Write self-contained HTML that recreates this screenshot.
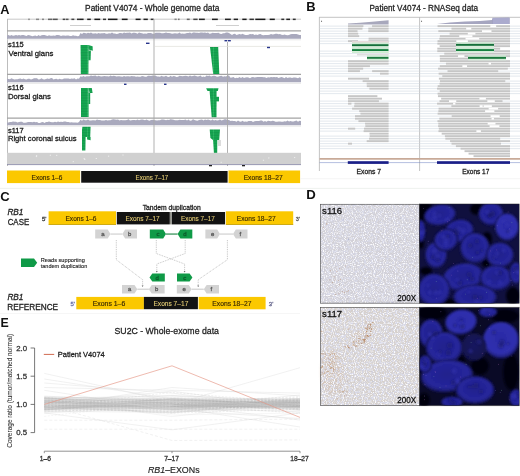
<!DOCTYPE html>
<html><head><meta charset="utf-8"><title>RB1 tandem duplication</title>
<style>html,body{margin:0;padding:0;background:#fff;} svg{display:block;} text{font-family:'Liberation Sans', Arial, sans-serif;}</style>
</head><body>
<svg width="520" height="476" viewBox="0 0 520 476">
<rect width="520" height="476" fill="#fff"/>
<text x="0.18" y="13.70" font-size="12.4" fill="#111" font-weight="bold" font-style="normal" textLength="9.24" lengthAdjust="spacingAndGlyphs"  >A</text>
<text x="85.08" y="11.40" font-size="8.5" fill="#222" font-weight="normal" font-style="normal" textLength="134.35" lengthAdjust="spacingAndGlyphs" stroke="#222" stroke-width="0.28" >Patient V4074 - Whole genome data</text>
<line x1="7.00" y1="19.20" x2="301.00" y2="19.20" stroke="#c8c8c8" stroke-width="1" />
<rect x="28.00" y="18.60" width="2.00" height="1.50" fill="#999" />
<rect x="36.00" y="18.60" width="3.00" height="1.50" fill="#888" />
<rect x="42.00" y="18.60" width="2.00" height="1.50" fill="#888" />
<rect x="48.00" y="18.60" width="4.00" height="1.50" fill="#666" />
<rect x="52.60" y="18.60" width="5.10" height="1.50" fill="#555" />
<rect x="62.70" y="18.60" width="2.30" height="1.50" fill="#444" />
<rect x="65.60" y="18.60" width="2.90" height="1.50" fill="#555" />
<rect x="71.40" y="18.60" width="2.90" height="1.50" fill="#444" />
<rect x="77.00" y="18.60" width="3.00" height="1.50" fill="#333" />
<rect x="80.00" y="18.60" width="3.60" height="1.50" fill="#222" />
<rect x="87.20" y="18.60" width="3.60" height="1.50" fill="#222" />
<rect x="94.40" y="18.60" width="5.80" height="1.50" fill="#1a1a1a" />
<rect x="103.00" y="18.60" width="3.00" height="1.50" fill="#333" />
<rect x="108.00" y="18.60" width="9.50" height="1.50" fill="#1a1a1a" />
<rect x="121.80" y="18.60" width="5.80" height="1.50" fill="#1a1a1a" />
<rect x="135.60" y="18.60" width="5.00" height="1.50" fill="#1a1a1a" />
<rect x="143.50" y="18.60" width="4.30" height="1.50" fill="#222" />
<rect x="150.70" y="18.60" width="2.90" height="1.50" fill="#333" />
<rect x="174.50" y="18.60" width="2.20" height="1.50" fill="#888" />
<rect x="178.00" y="18.60" width="1.60" height="1.50" fill="#777" />
<rect x="186.80" y="18.60" width="2.90" height="1.50" fill="#666" />
<rect x="193.30" y="18.60" width="4.30" height="1.50" fill="#444" />
<rect x="199.00" y="18.60" width="5.80" height="1.50" fill="#222" />
<rect x="212.00" y="18.60" width="5.80" height="1.50" fill="#222" />
<rect x="225.00" y="18.60" width="5.80" height="1.50" fill="#222" />
<rect x="233.70" y="18.60" width="4.30" height="1.50" fill="#222" />
<rect x="242.30" y="18.60" width="4.30" height="1.50" fill="#1a1a1a" />
<rect x="249.50" y="18.60" width="4.40" height="1.50" fill="#333" />
<rect x="255.30" y="18.60" width="10.10" height="1.50" fill="#1a1a1a" />
<rect x="269.70" y="18.60" width="5.10" height="1.50" fill="#1a1a1a" />
<rect x="281.30" y="18.60" width="2.90" height="1.50" fill="#333" />
<rect x="286.30" y="18.60" width="3.70" height="1.50" fill="#222" />
<rect x="292.80" y="18.60" width="2.90" height="1.50" fill="#333" />
<line x1="7.50" y1="19.00" x2="7.50" y2="166.00" stroke="#bdbdbd" stroke-width="1" />
<rect x="70.00" y="25.00" width="21.00" height="0.80" fill="#c4c4c4" />
<rect x="216.00" y="25.00" width="23.00" height="0.80" fill="#c4c4c4" />
<line x1="7.00" y1="30.80" x2="301.00" y2="30.80" stroke="#a3a3a3" stroke-width="1.2" />
<polygon points="7,38.8 7.0,35.4 8.5,35.1 10.0,35.8 11.5,35.0 13.0,35.7 14.5,35.4 16.0,35.0 17.5,35.6 19.0,35.0 20.5,35.5 22.0,35.0 23.5,35.1 25.0,35.5 26.5,36.1 28.0,35.1 29.5,35.2 31.0,35.8 32.5,36.3 34.0,35.7 35.5,35.5 37.0,36.3 38.5,35.0 40.0,36.1 41.5,35.3 43.0,35.1 44.5,35.1 46.0,35.4 47.5,36.1 49.0,35.2 50.5,35.8 52.0,35.8 53.5,35.5 55.0,35.7 56.5,35.0 58.0,35.0 59.5,35.2 61.0,35.9 62.5,35.5 64.0,35.4 65.5,35.8 67.0,35.6 68.5,35.4 70.0,36.0 71.5,35.9 73.0,35.3 74.5,35.7 76.0,35.7 77.5,36.2 79.0,36.0 80.5,32.9 82.0,33.9 83.5,32.7 85.0,33.1 86.5,33.6 88.0,32.7 89.5,33.2 91.0,32.6 92.5,33.4 94.0,33.6 95.5,33.3 97.0,33.7 98.5,32.9 100.0,33.5 101.5,33.3 103.0,33.3 104.5,33.1 106.0,33.7 107.5,33.8 109.0,33.2 110.5,33.4 112.0,32.6 113.5,33.5 115.0,33.4 116.5,33.9 118.0,33.7 119.5,32.9 121.0,33.0 122.5,33.4 124.0,32.5 125.5,33.1 127.0,32.7 128.5,32.7 130.0,32.6 131.5,33.6 133.0,32.7 134.5,32.8 136.0,33.0 137.5,33.7 139.0,32.6 140.5,33.1 142.0,33.3 143.5,33.7 145.0,33.6 146.5,33.7 148.0,32.9 149.5,33.1 151.0,33.0 152.5,33.7 154.0,33.8 155.5,32.7 157.0,32.7 158.5,32.8 160.0,32.8 161.5,33.2 163.0,33.3 164.5,32.9 166.0,32.5 167.5,33.1 169.0,33.0 170.5,33.3 172.0,33.8 173.5,33.5 175.0,33.2 176.5,33.4 178.0,33.4 179.5,32.6 181.0,33.8 182.5,33.6 184.0,33.7 185.5,33.6 187.0,33.0 188.5,33.1 190.0,32.6 191.5,33.4 193.0,32.6 194.5,32.6 196.0,32.8 197.5,32.7 199.0,33.0 200.5,32.6 202.0,32.5 203.5,32.7 205.0,32.6 206.5,33.0 208.0,32.5 209.5,33.7 211.0,33.4 212.5,32.7 214.0,32.9 215.5,33.0 217.0,33.0 218.5,32.7 220.0,33.7 221.5,33.9 223.0,33.2 224.5,33.2 226.0,32.6 227.5,32.6 229.0,33.0 230.5,34.1 232.0,34.9 233.5,34.0 235.0,33.8 236.5,35.1 238.0,34.5 239.5,34.0 241.0,34.5 242.5,33.8 244.0,34.5 245.5,35.1 247.0,35.0 248.5,34.8 250.0,34.1 251.5,34.3 253.0,34.0 254.5,34.9 256.0,34.5 257.5,34.9 259.0,34.2 260.5,34.1 262.0,34.9 263.5,35.2 265.0,35.0 266.5,34.9 268.0,34.9 269.5,34.8 271.0,34.1 272.5,34.5 274.0,34.3 275.5,33.8 277.0,33.8 278.5,34.2 280.0,34.1 281.5,34.7 283.0,35.1 284.5,34.4 286.0,35.1 287.5,35.2 289.0,35.1 290.5,34.3 292.0,34.1 293.5,34.1 295.0,34.1 296.5,34.1 298.0,34.6 299.5,35.0 301.0,35.0 301,38.8" fill="#a9a9bd"/>
<line x1="7.00" y1="74.40" x2="301.00" y2="74.40" stroke="#a3a3a3" stroke-width="1.2" />
<polygon points="7,82.2 7.0,78.8 8.5,79.0 10.0,79.2 11.5,78.2 13.0,79.0 14.5,79.4 16.0,79.2 17.5,79.2 19.0,78.8 20.5,78.4 22.0,79.2 23.5,78.6 25.0,79.2 26.5,79.5 28.0,78.7 29.5,78.7 31.0,79.4 32.5,79.1 34.0,78.3 35.5,78.3 37.0,78.3 38.5,79.4 40.0,79.2 41.5,78.3 43.0,79.3 44.5,79.5 46.0,79.0 47.5,78.6 49.0,78.9 50.5,78.3 52.0,78.1 53.5,79.5 55.0,79.0 56.5,78.8 58.0,79.4 59.5,78.7 61.0,79.3 62.5,79.3 64.0,78.4 65.5,78.5 67.0,78.5 68.5,78.4 70.0,78.9 71.5,78.5 73.0,78.7 74.5,78.3 76.0,79.4 77.5,78.6 79.0,78.7 80.5,76.3 82.0,76.8 83.5,76.1 85.0,76.8 86.5,76.2 88.0,76.2 89.5,76.2 91.0,75.5 92.5,76.1 94.0,75.8 95.5,75.5 97.0,76.6 98.5,75.7 100.0,76.2 101.5,76.5 103.0,76.3 104.5,76.0 106.0,76.2 107.5,76.3 109.0,76.6 110.5,75.6 112.0,76.3 113.5,75.8 115.0,75.9 116.5,76.6 118.0,76.2 119.5,76.3 121.0,76.6 122.5,76.8 124.0,76.1 125.5,76.4 127.0,76.2 128.5,76.2 130.0,76.5 131.5,76.1 133.0,76.2 134.5,76.2 136.0,76.8 137.5,76.5 139.0,76.7 140.5,76.8 142.0,75.9 143.5,76.3 145.0,76.8 146.5,76.7 148.0,75.7 149.5,75.7 151.0,76.1 152.5,75.6 154.0,75.8 155.5,75.6 157.0,76.4 158.5,76.6 160.0,76.8 161.5,75.7 163.0,76.5 164.5,76.4 166.0,75.7 167.5,76.7 169.0,76.9 170.5,75.8 172.0,76.8 173.5,76.1 175.0,76.2 176.5,76.9 178.0,76.7 179.5,75.7 181.0,76.1 182.5,76.2 184.0,76.0 185.5,75.8 187.0,75.9 188.5,76.5 190.0,75.5 191.5,76.3 193.0,76.1 194.5,75.5 196.0,76.0 197.5,76.4 199.0,76.2 200.5,75.6 202.0,76.9 203.5,76.6 205.0,76.9 206.5,75.6 208.0,75.9 209.5,75.6 211.0,76.6 212.5,75.9 214.0,75.7 215.5,76.1 217.0,76.8 218.5,76.6 220.0,75.9 221.5,75.7 223.0,76.8 224.5,76.3 226.0,76.5 227.5,75.6 229.0,75.6 230.5,77.8 232.0,77.5 233.5,77.0 235.0,78.2 236.5,77.8 238.0,78.0 239.5,77.0 241.0,78.1 242.5,77.0 244.0,78.1 245.5,77.5 247.0,77.3 248.5,77.6 250.0,78.2 251.5,77.2 253.0,77.0 254.5,77.6 256.0,77.2 257.5,77.0 259.0,77.1 260.5,76.9 262.0,77.1 263.5,77.3 265.0,77.3 266.5,77.9 268.0,77.3 269.5,77.6 271.0,77.1 272.5,77.3 274.0,76.9 275.5,77.2 277.0,76.9 278.5,77.9 280.0,77.6 281.5,77.1 283.0,77.5 284.5,78.2 286.0,77.0 287.5,78.0 289.0,77.5 290.5,77.6 292.0,78.0 293.5,77.4 295.0,77.6 296.5,77.8 298.0,78.2 299.5,77.3 301.0,78.0 301,82.2" fill="#a9a9bd"/>
<line x1="7.00" y1="118.20" x2="301.00" y2="118.20" stroke="#a3a3a3" stroke-width="1.2" />
<polygon points="7,125.2 7.0,122.6 8.5,122.5 10.0,122.1 11.5,122.1 13.0,121.6 14.5,121.7 16.0,121.7 17.5,122.6 19.0,121.9 20.5,121.8 22.0,121.7 23.5,122.7 25.0,122.8 26.5,122.5 28.0,122.0 29.5,121.9 31.0,122.0 32.5,122.2 34.0,121.8 35.5,122.2 37.0,121.9 38.5,122.9 40.0,122.9 41.5,122.3 43.0,121.9 44.5,122.9 46.0,122.0 47.5,122.1 49.0,121.6 50.5,122.1 52.0,122.2 53.5,122.3 55.0,121.8 56.5,122.3 58.0,121.6 59.5,121.9 61.0,121.7 62.5,122.1 64.0,121.6 65.5,121.6 67.0,122.0 68.5,121.9 70.0,122.4 71.5,122.3 73.0,122.6 74.5,122.5 76.0,122.6 77.5,122.8 79.0,122.1 80.5,119.8 82.0,120.7 83.5,119.5 85.0,120.3 86.5,120.2 88.0,119.4 89.5,120.5 91.0,120.5 92.5,120.2 94.0,120.3 95.5,120.4 97.0,119.5 98.5,120.0 100.0,120.0 101.5,120.5 103.0,120.4 104.5,120.5 106.0,120.1 107.5,120.5 109.0,120.3 110.5,120.3 112.0,119.6 113.5,119.3 115.0,119.5 116.5,119.8 118.0,119.4 119.5,120.5 121.0,120.1 122.5,120.2 124.0,120.2 125.5,120.3 127.0,120.0 128.5,119.3 130.0,120.4 131.5,120.3 133.0,120.0 134.5,120.0 136.0,120.2 137.5,119.4 139.0,120.3 140.5,119.7 142.0,119.4 143.5,119.7 145.0,120.3 146.5,119.6 148.0,120.3 149.5,120.7 151.0,120.0 152.5,119.8 154.0,120.0 155.5,120.3 157.0,120.4 158.5,120.2 160.0,120.2 161.5,119.4 163.0,119.5 164.5,119.7 166.0,120.3 167.5,119.7 169.0,120.1 170.5,119.3 172.0,119.4 173.5,119.7 175.0,120.2 176.5,120.3 178.0,120.2 179.5,119.7 181.0,120.0 182.5,120.0 184.0,120.0 185.5,119.5 187.0,120.6 188.5,119.6 190.0,120.7 191.5,120.6 193.0,119.3 194.5,119.9 196.0,120.4 197.5,120.7 199.0,119.9 200.5,119.7 202.0,119.6 203.5,120.6 205.0,119.6 206.5,120.1 208.0,119.5 209.5,120.0 211.0,120.6 212.5,119.5 214.0,120.4 215.5,120.0 217.0,120.5 218.5,120.3 220.0,119.6 221.5,120.6 223.0,120.0 224.5,119.3 226.0,119.3 227.5,120.0 229.0,119.9 230.5,120.9 232.0,120.7 233.5,121.0 235.0,120.9 236.5,121.7 238.0,120.5 239.5,121.5 241.0,121.7 242.5,120.7 244.0,121.8 245.5,121.5 247.0,121.8 248.5,120.9 250.0,121.0 251.5,121.0 253.0,121.9 254.5,121.3 256.0,121.0 257.5,121.1 259.0,120.9 260.5,120.6 262.0,120.6 263.5,121.7 265.0,120.9 266.5,121.8 268.0,120.8 269.5,120.9 271.0,121.2 272.5,120.8 274.0,121.0 275.5,121.8 277.0,121.7 278.5,121.6 280.0,121.4 281.5,121.8 283.0,121.8 284.5,121.3 286.0,121.5 287.5,120.6 289.0,121.5 290.5,121.1 292.0,121.5 293.5,121.4 295.0,120.9 296.5,120.6 298.0,121.8 299.5,120.7 301.0,121.1 301,125.2" fill="#a9a9bd"/>
<line x1="7.00" y1="39.80" x2="301.00" y2="39.80" stroke="#e2e2e2" stroke-width="0.8" />
<line x1="7.00" y1="83.40" x2="301.00" y2="83.40" stroke="#e2e2e2" stroke-width="0.8" />
<line x1="7.00" y1="126.20" x2="301.00" y2="126.20" stroke="#e2e2e2" stroke-width="0.8" />
<line x1="154.00" y1="19.00" x2="154.00" y2="166.00" stroke="#a8a8a8" stroke-width="0.9" />
<line x1="227.50" y1="42.00" x2="227.50" y2="166.00" stroke="#a8a8a8" stroke-width="0.9" />
<line x1="155.00" y1="46.40" x2="301.00" y2="46.40" stroke="#e0e0d8" stroke-width="0.7" />
<rect x="146.00" y="42.60" width="3.50" height="1.40" fill="#27348b" />
<rect x="224.50" y="40.00" width="2.80" height="1.40" fill="#27348b" />
<rect x="228.00" y="40.00" width="2.80" height="1.40" fill="#27348b" />
<rect x="267.00" y="46.80" width="3.00" height="1.40" fill="#27348b" />
<rect x="124.00" y="83.60" width="2.50" height="1.40" fill="#27348b" />
<rect x="164.00" y="83.60" width="2.50" height="1.40" fill="#27348b" />
<polygon points="80.5,45 88.6,45 88.4,74 80.8,74" fill="url(#gs)"/>
<polygon points="88.4,45 92.6,46.2 92.8,50.8 88.4,49.5" fill="url(#gs)"/>
<polygon points="88.3,50.5 90.9,50.5 90.6,60.2 88.3,60.2" fill="url(#gs)"/>
<polygon points="210,47 218.2,47 219.3,74 213.2,74" fill="url(#gs)"/>
<polygon points="81,88 88.6,88 88.6,117 81,117" fill="url(#gs)"/>
<polygon points="88.5,88 91.8,88 92.6,93 89.5,93" fill="url(#gs)"/>
<polygon points="88.5,93 90.2,93 90.2,104 88.5,104" fill="url(#gs)"/>
<polygon points="206,88.2 218.5,88.2 217.8,91 207.5,91" fill="url(#gs)"/>
<polygon points="209.6,91 216.6,91 216.5,117.3 211.7,117.3" fill="url(#gs)"/>
<polygon points="216,96.8 219,96.8 219,101.4 216,101.4" fill="url(#gs)"/>
<polygon points="82.4,126.8 90.6,126.8 90.2,137 85.6,137 85.4,150.5 82,150.5 82,130" fill="url(#gs)"/>
<polygon points="87,136 90.6,137 90.6,140.2 87,139.4" fill="url(#gs)"/>
<polygon points="209.7,129.4 220,129.4 219.2,140 217.3,140 217.2,154.5 214,154.5 213,140 210.4,138" fill="url(#gs)"/>
<rect x="218.00" y="140.00" width="3.00" height="6.00" fill="#dcdcdc" />
<rect x="7.00" y="152.80" width="294.00" height="11.40" fill="#d0d0d0" />
<rect x="107.94" y="155.68" width="1.20" height="1.00" fill="#eeeeee" />
<rect x="220.62" y="161.79" width="1.20" height="1.00" fill="#eeeeee" />
<rect x="84.15" y="158.90" width="1.20" height="1.00" fill="#eeeeee" />
<rect x="95.74" y="158.02" width="1.20" height="1.00" fill="#eeeeee" />
<rect x="122.39" y="154.51" width="1.20" height="1.00" fill="#eeeeee" />
<rect x="56.07" y="154.87" width="1.20" height="1.00" fill="#eeeeee" />
<rect x="268.20" y="157.47" width="1.20" height="1.00" fill="#eeeeee" />
<rect x="72.71" y="161.16" width="1.20" height="1.00" fill="#eeeeee" />
<rect x="294.00" y="157.05" width="1.20" height="1.00" fill="#eeeeee" />
<rect x="49.78" y="154.73" width="1.20" height="1.00" fill="#eeeeee" />
<rect x="35.85" y="156.08" width="1.20" height="1.00" fill="#eeeeee" />
<rect x="35.96" y="155.15" width="1.20" height="1.00" fill="#eeeeee" />
<rect x="83.63" y="158.13" width="1.20" height="1.00" fill="#eeeeee" />
<rect x="262.87" y="159.75" width="1.20" height="1.00" fill="#eeeeee" />
<line x1="7.00" y1="164.60" x2="301.00" y2="164.60" stroke="#8a8aa8" stroke-width="0.9" />
<rect x="209.00" y="165.00" width="3.00" height="1.30" fill="#222" />
<rect x="242.00" y="165.00" width="3.00" height="1.30" fill="#222" />
<text x="8.13" y="46.90" font-size="7.4" fill="#1a1a1a" font-weight="normal" font-style="normal" textLength="15.64" lengthAdjust="spacingAndGlyphs" stroke="#1a1a1a" stroke-width="0.28" >s115</text>
<text x="8.42" y="55.90" font-size="7.6" fill="#1a1a1a" font-weight="normal" font-style="normal" textLength="44.96" lengthAdjust="spacingAndGlyphs" stroke="#1a1a1a" stroke-width="0.28" >Ventral glans</text>
<text x="7.93" y="89.80" font-size="7.4" fill="#1a1a1a" font-weight="normal" font-style="normal" textLength="15.64" lengthAdjust="spacingAndGlyphs" stroke="#1a1a1a" stroke-width="0.28" >s116</text>
<text x="7.92" y="98.80" font-size="7.6" fill="#1a1a1a" font-weight="normal" font-style="normal" textLength="42.96" lengthAdjust="spacingAndGlyphs" stroke="#1a1a1a" stroke-width="0.28" >Dorsal glans</text>
<text x="7.93" y="132.90" font-size="7.4" fill="#1a1a1a" font-weight="normal" font-style="normal" textLength="15.64" lengthAdjust="spacingAndGlyphs" stroke="#1a1a1a" stroke-width="0.28" >s117</text>
<text x="7.92" y="141.30" font-size="7.6" fill="#1a1a1a" font-weight="normal" font-style="normal" textLength="68.76" lengthAdjust="spacingAndGlyphs" stroke="#1a1a1a" stroke-width="0.28" >Right coronal sulcus</text>
<rect x="7.00" y="170.50" width="73.10" height="12.60" fill="#fbc800" />
<rect x="81.20" y="171.00" width="146.40" height="11.70" fill="#131313" />
<rect x="228.50" y="170.50" width="71.60" height="12.60" fill="#fbc800" />
<text x="31.57" y="180.00" font-size="6.5" fill="#3a2a00" font-weight="normal" font-style="normal" textLength="30.75" lengthAdjust="spacingAndGlyphs" stroke="#3a2a00" stroke-width="0.15" >Exons 1–6</text>
<text x="135.58" y="179.80" font-size="6.4" fill="#e4cc74" font-weight="normal" font-style="normal" textLength="32.74" lengthAdjust="spacingAndGlyphs" stroke="#e4cc74" stroke-width="0.1" >Exons 7–17</text>
<text x="243.67" y="180.10" font-size="6.6" fill="#3a2a00" font-weight="normal" font-style="normal" textLength="38.96" lengthAdjust="spacingAndGlyphs" stroke="#3a2a00" stroke-width="0.15" >Exons 18–27</text>
<text x="306.19" y="10.80" font-size="12.3" fill="#111" font-weight="bold" font-style="normal" textLength="9.33" lengthAdjust="spacingAndGlyphs"  >B</text>
<text x="369.38" y="11.40" font-size="8.5" fill="#222" font-weight="normal" font-style="normal" textLength="108.65" lengthAdjust="spacingAndGlyphs" stroke="#222" stroke-width="0.28" >Patient V4074 - RNASeq data</text>
<line x1="319.00" y1="17.30" x2="520.00" y2="17.30" stroke="#bcbcbc" stroke-width="0.9" />
<line x1="319.40" y1="17.00" x2="319.40" y2="171.00" stroke="#bcbcbc" stroke-width="0.9" />
<line x1="419.60" y1="17.00" x2="419.60" y2="171.00" stroke="#bcbcbc" stroke-width="0.9" />
<polygon points="348,24.5 348,23.6 360,22.8 372,21.8 380,21 388.6,20.3 388.6,24.5" fill="#a8a8bc"/>
<polygon points="437,24 450,22.5 465,21.5 480,21 492,20 493,18 509.5,17.6 509.5,24" fill="#a6a6c0"/>
<rect x="492.50" y="17.80" width="17.00" height="6.20" fill="#9c9cc4" />
<line x1="494.00" y1="17.80" x2="494.00" y2="24.00" stroke="#d8d8ec" stroke-width="0.5" />
<line x1="496.00" y1="17.80" x2="496.00" y2="24.00" stroke="#d8d8ec" stroke-width="0.5" />
<line x1="498.00" y1="17.80" x2="498.00" y2="24.00" stroke="#d8d8ec" stroke-width="0.5" />
<line x1="500.00" y1="17.80" x2="500.00" y2="24.00" stroke="#d8d8ec" stroke-width="0.5" />
<line x1="502.00" y1="17.80" x2="502.00" y2="24.00" stroke="#d8d8ec" stroke-width="0.5" />
<line x1="504.00" y1="17.80" x2="504.00" y2="24.00" stroke="#d8d8ec" stroke-width="0.5" />
<line x1="506.00" y1="17.80" x2="506.00" y2="24.00" stroke="#d8d8ec" stroke-width="0.5" />
<line x1="508.00" y1="17.80" x2="508.00" y2="24.00" stroke="#d8d8ec" stroke-width="0.5" />
<text x="321.00" y="21.50" font-size="3" fill="#666" text-anchor="start" font-weight="normal" font-style="normal" stroke="#666" stroke-width="0.28" >▪</text>
<text x="421.00" y="21.50" font-size="3" fill="#666" text-anchor="start" font-weight="normal" font-style="normal" stroke="#666" stroke-width="0.28" >▪</text>
<line x1="319.50" y1="26.10" x2="520.00" y2="26.10" stroke="#ccd4e0" stroke-width="0.55" />
<rect x="348.00" y="25.20" width="15.39" height="1.90" fill="#c6c6c6" />
<rect x="372.06" y="25.20" width="16.54" height="1.90" fill="#c6c6c6" />
<rect x="437.55" y="25.20" width="72.45" height="1.90" fill="#c6c6c6" />
<rect x="490.31" y="25.20" width="5.85" height="1.90" fill="#ffffff" />
<line x1="319.50" y1="28.60" x2="520.00" y2="28.60" stroke="#ccd4e0" stroke-width="0.55" />
<rect x="348.00" y="27.70" width="14.48" height="1.90" fill="#c6c6c6" />
<rect x="368.34" y="27.70" width="20.26" height="1.90" fill="#c6c6c6" />
<rect x="451.47" y="27.70" width="58.53" height="1.90" fill="#c6c6c6" />
<rect x="466.17" y="27.70" width="5.14" height="1.90" fill="#ffffff" />
<line x1="319.50" y1="31.10" x2="520.00" y2="31.10" stroke="#ccd4e0" stroke-width="0.55" />
<rect x="348.00" y="30.20" width="9.52" height="1.90" fill="#c6c6c6" />
<rect x="368.24" y="30.20" width="20.36" height="1.90" fill="#c6c6c6" />
<rect x="438.32" y="30.20" width="71.68" height="1.90" fill="#c6c6c6" />
<rect x="481.97" y="30.20" width="9.50" height="1.90" fill="#ffffff" />
<line x1="319.50" y1="33.60" x2="520.00" y2="33.60" stroke="#ccd4e0" stroke-width="0.55" />
<rect x="348.00" y="32.70" width="10.23" height="1.90" fill="#c6c6c6" />
<rect x="449.60" y="32.70" width="60.40" height="1.90" fill="#c6c6c6" />
<rect x="467.80" y="32.70" width="7.60" height="1.90" fill="#ffffff" />
<line x1="319.50" y1="36.10" x2="520.00" y2="36.10" stroke="#ccd4e0" stroke-width="0.55" />
<rect x="348.00" y="35.20" width="11.20" height="1.90" fill="#c6c6c6" />
<rect x="439.87" y="35.20" width="70.13" height="1.90" fill="#c6c6c6" />
<rect x="459.23" y="35.20" width="13.19" height="1.90" fill="#ffffff" />
<line x1="319.50" y1="38.60" x2="520.00" y2="38.60" stroke="#ccd4e0" stroke-width="0.55" />
<rect x="368.58" y="37.70" width="20.02" height="1.90" fill="#c6c6c6" />
<rect x="439.34" y="37.70" width="70.66" height="1.90" fill="#c6c6c6" />
<rect x="465.52" y="37.70" width="13.68" height="1.90" fill="#ffffff" />
<line x1="319.50" y1="41.10" x2="520.00" y2="41.10" stroke="#ccd4e0" stroke-width="0.55" />
<rect x="348.00" y="40.20" width="9.97" height="1.90" fill="#c6c6c6" />
<rect x="368.48" y="40.20" width="20.12" height="1.90" fill="#c6c6c6" />
<rect x="352.00" y="41.30" width="36.60" height="1.90" fill="#e8dada" />
<rect x="437.53" y="40.20" width="72.47" height="1.90" fill="#c6c6c6" />
<rect x="456.30" y="40.20" width="11.59" height="1.90" fill="#ffffff" />
<line x1="319.50" y1="43.60" x2="520.00" y2="43.60" stroke="#ccd4e0" stroke-width="0.55" />
<rect x="352.00" y="41.30" width="36.60" height="1.90" fill="#e8dada" />
<rect x="437.35" y="42.70" width="72.65" height="1.90" fill="#c6c6c6" />
<rect x="460.63" y="42.70" width="7.83" height="1.90" fill="#ffffff" />
<rect x="439.65" y="45.20" width="70.35" height="1.90" fill="#c6c6c6" />
<rect x="358.00" y="47.10" width="30.60" height="1.60" fill="#dcdcdc" />
<rect x="437.30" y="47.70" width="62.83" height="1.90" fill="#c6c6c6" />
<rect x="481.49" y="47.70" width="3.97" height="1.90" fill="#ffffff" />
<line x1="319.50" y1="51.10" x2="520.00" y2="51.10" stroke="#ccd4e0" stroke-width="0.55" />
<rect x="437.27" y="50.20" width="72.73" height="1.90" fill="#c6c6c6" />
<rect x="479.38" y="50.20" width="4.23" height="1.90" fill="#ffffff" />
<line x1="319.50" y1="53.60" x2="520.00" y2="53.60" stroke="#ccd4e0" stroke-width="0.55" />
<rect x="352.00" y="51.40" width="36.60" height="1.60" fill="#c9ecca" />
<rect x="444.26" y="52.70" width="65.74" height="1.90" fill="#c6c6c6" />
<line x1="319.50" y1="56.10" x2="520.00" y2="56.10" stroke="#ccd4e0" stroke-width="0.55" />
<rect x="357.00" y="53.60" width="31.60" height="1.90" fill="#dedede" />
<rect x="439.73" y="55.20" width="70.27" height="1.90" fill="#c6c6c6" />
<rect x="458.03" y="55.20" width="6.44" height="1.90" fill="#ffffff" />
<rect x="439.85" y="57.70" width="64.18" height="1.90" fill="#c6c6c6" />
<line x1="319.50" y1="61.10" x2="520.00" y2="61.10" stroke="#ccd4e0" stroke-width="0.55" />
<rect x="348.00" y="60.20" width="40.60" height="1.90" fill="#c6c6c6" />
<rect x="439.89" y="60.20" width="70.11" height="1.90" fill="#c6c6c6" />
<line x1="319.50" y1="63.60" x2="520.00" y2="63.60" stroke="#ccd4e0" stroke-width="0.55" />
<rect x="348.00" y="62.70" width="40.60" height="1.90" fill="#c6c6c6" />
<rect x="445.95" y="62.70" width="64.05" height="1.90" fill="#c6c6c6" />
<rect x="488.56" y="62.70" width="2.41" height="1.90" fill="#ffffff" />
<line x1="319.50" y1="66.10" x2="520.00" y2="66.10" stroke="#ccd4e0" stroke-width="0.55" />
<rect x="348.00" y="65.20" width="21.93" height="1.90" fill="#c6c6c6" />
<rect x="439.75" y="65.20" width="70.25" height="1.90" fill="#c6c6c6" />
<rect x="462.36" y="65.20" width="4.67" height="1.90" fill="#ffffff" />
<line x1="319.50" y1="68.60" x2="520.00" y2="68.60" stroke="#ccd4e0" stroke-width="0.55" />
<rect x="348.00" y="67.70" width="15.16" height="1.90" fill="#c6c6c6" />
<rect x="438.09" y="67.70" width="69.72" height="1.90" fill="#c6c6c6" />
<line x1="319.50" y1="71.10" x2="520.00" y2="71.10" stroke="#ccd4e0" stroke-width="0.55" />
<rect x="348.00" y="70.20" width="11.96" height="1.90" fill="#c6c6c6" />
<rect x="372.14" y="70.20" width="16.46" height="1.90" fill="#c6c6c6" />
<rect x="447.51" y="70.20" width="50.70" height="1.90" fill="#c6c6c6" />
<line x1="319.50" y1="73.60" x2="520.00" y2="73.60" stroke="#ccd4e0" stroke-width="0.55" />
<rect x="379.99" y="72.70" width="8.61" height="1.90" fill="#c6c6c6" />
<rect x="438.64" y="72.70" width="71.36" height="1.90" fill="#c6c6c6" />
<line x1="319.50" y1="76.10" x2="520.00" y2="76.10" stroke="#ccd4e0" stroke-width="0.55" />
<rect x="442.28" y="75.20" width="67.72" height="1.90" fill="#c6c6c6" />
<rect x="348.00" y="77.70" width="21.07" height="1.90" fill="#c6c6c6" />
<rect x="438.87" y="77.70" width="71.13" height="1.90" fill="#c6c6c6" />
<line x1="319.50" y1="81.10" x2="520.00" y2="81.10" stroke="#ccd4e0" stroke-width="0.55" />
<rect x="362.64" y="80.20" width="25.96" height="1.90" fill="#c6c6c6" />
<rect x="439.98" y="80.20" width="65.30" height="1.90" fill="#c6c6c6" />
<line x1="319.50" y1="83.60" x2="520.00" y2="83.60" stroke="#ccd4e0" stroke-width="0.55" />
<rect x="366.65" y="82.70" width="21.95" height="1.90" fill="#c6c6c6" />
<rect x="439.52" y="82.70" width="70.48" height="1.90" fill="#c6c6c6" />
<line x1="319.50" y1="86.10" x2="520.00" y2="86.10" stroke="#ccd4e0" stroke-width="0.55" />
<rect x="366.81" y="85.20" width="21.79" height="1.90" fill="#c6c6c6" />
<rect x="437.69" y="85.20" width="72.31" height="1.90" fill="#c6c6c6" />
<line x1="319.50" y1="88.60" x2="520.00" y2="88.60" stroke="#ccd4e0" stroke-width="0.55" />
<rect x="369.36" y="87.70" width="19.24" height="1.90" fill="#c6c6c6" />
<rect x="437.03" y="87.70" width="72.97" height="1.90" fill="#c6c6c6" />
<line x1="319.50" y1="91.10" x2="520.00" y2="91.10" stroke="#ccd4e0" stroke-width="0.55" />
<rect x="439.72" y="90.20" width="70.28" height="1.90" fill="#c6c6c6" />
<line x1="319.50" y1="93.60" x2="520.00" y2="93.60" stroke="#ccd4e0" stroke-width="0.55" />
<rect x="437.60" y="92.70" width="72.40" height="1.90" fill="#c6c6c6" />
<rect x="348.00" y="95.20" width="29.38" height="1.90" fill="#c6c6c6" />
<rect x="437.95" y="95.20" width="72.05" height="1.90" fill="#c6c6c6" />
<rect x="348.00" y="97.70" width="33.96" height="1.90" fill="#c6c6c6" />
<rect x="441.15" y="97.70" width="68.85" height="1.90" fill="#c6c6c6" />
<rect x="479.43" y="97.70" width="6.48" height="1.90" fill="#ffffff" />
<line x1="319.50" y1="101.10" x2="520.00" y2="101.10" stroke="#ccd4e0" stroke-width="0.55" />
<rect x="348.00" y="100.20" width="30.91" height="1.90" fill="#c6c6c6" />
<rect x="439.52" y="100.20" width="63.01" height="1.90" fill="#c6c6c6" />
<rect x="449.00" y="100.20" width="7.24" height="1.90" fill="#ffffff" />
<rect x="487.34" y="100.20" width="7.42" height="1.90" fill="#ffffff" />
<line x1="319.50" y1="103.60" x2="520.00" y2="103.60" stroke="#ccd4e0" stroke-width="0.55" />
<rect x="354.45" y="102.70" width="34.15" height="1.90" fill="#c6c6c6" />
<rect x="348.00" y="102.70" width="3.45" height="1.90" fill="#c6c6c6" />
<rect x="437.07" y="102.70" width="72.93" height="1.90" fill="#c6c6c6" />
<rect x="453.09" y="102.70" width="2.28" height="1.90" fill="#ffffff" />
<line x1="319.50" y1="106.10" x2="520.00" y2="106.10" stroke="#ccd4e0" stroke-width="0.55" />
<rect x="354.15" y="105.20" width="34.45" height="1.90" fill="#c6c6c6" />
<rect x="451.38" y="105.20" width="58.62" height="1.90" fill="#c6c6c6" />
<rect x="479.63" y="105.20" width="3.07" height="1.90" fill="#ffffff" />
<rect x="483.56" y="105.20" width="8.29" height="1.90" fill="#ffffff" />
<line x1="319.50" y1="108.60" x2="520.00" y2="108.60" stroke="#ccd4e0" stroke-width="0.55" />
<rect x="352.08" y="107.70" width="36.52" height="1.90" fill="#c6c6c6" />
<rect x="438.56" y="107.70" width="71.44" height="1.90" fill="#c6c6c6" />
<rect x="488.67" y="107.70" width="9.44" height="1.90" fill="#ffffff" />
<line x1="319.50" y1="111.10" x2="520.00" y2="111.10" stroke="#ccd4e0" stroke-width="0.55" />
<rect x="359.18" y="110.20" width="29.42" height="1.90" fill="#c6c6c6" />
<rect x="438.36" y="110.20" width="71.64" height="1.90" fill="#c6c6c6" />
<rect x="485.10" y="110.20" width="9.28" height="1.90" fill="#ffffff" />
<line x1="319.50" y1="113.60" x2="520.00" y2="113.60" stroke="#ccd4e0" stroke-width="0.55" />
<rect x="360.44" y="112.70" width="28.16" height="1.90" fill="#c6c6c6" />
<rect x="437.61" y="112.70" width="72.39" height="1.90" fill="#c6c6c6" />
<line x1="319.50" y1="116.10" x2="520.00" y2="116.10" stroke="#ccd4e0" stroke-width="0.55" />
<rect x="355.01" y="115.20" width="33.59" height="1.90" fill="#c6c6c6" />
<rect x="451.66" y="115.20" width="58.34" height="1.90" fill="#c6c6c6" />
<rect x="490.56" y="115.20" width="9.13" height="1.90" fill="#ffffff" />
<line x1="319.50" y1="118.60" x2="520.00" y2="118.60" stroke="#ccd4e0" stroke-width="0.55" />
<rect x="354.99" y="117.70" width="33.61" height="1.90" fill="#c6c6c6" />
<rect x="439.30" y="117.70" width="70.70" height="1.90" fill="#c6c6c6" />
<rect x="491.56" y="117.70" width="2.38" height="1.90" fill="#ffffff" />
<line x1="319.50" y1="121.10" x2="520.00" y2="121.10" stroke="#ccd4e0" stroke-width="0.55" />
<rect x="358.42" y="120.20" width="30.18" height="1.90" fill="#c6c6c6" />
<rect x="437.45" y="120.20" width="72.55" height="1.90" fill="#c6c6c6" />
<line x1="319.50" y1="123.60" x2="520.00" y2="123.60" stroke="#ccd4e0" stroke-width="0.55" />
<rect x="365.07" y="122.70" width="23.53" height="1.90" fill="#c6c6c6" />
<rect x="438.29" y="122.70" width="71.71" height="1.90" fill="#c6c6c6" />
<rect x="487.66" y="122.70" width="7.83" height="1.90" fill="#ffffff" />
<line x1="319.50" y1="126.10" x2="520.00" y2="126.10" stroke="#ccd4e0" stroke-width="0.55" />
<rect x="365.30" y="125.20" width="23.30" height="1.90" fill="#c6c6c6" />
<rect x="438.14" y="125.20" width="71.86" height="1.90" fill="#c6c6c6" />
<rect x="489.61" y="125.20" width="9.81" height="1.90" fill="#ffffff" />
<line x1="319.50" y1="128.60" x2="520.00" y2="128.60" stroke="#ccd4e0" stroke-width="0.55" />
<rect x="364.02" y="127.70" width="24.58" height="1.90" fill="#c6c6c6" />
<rect x="348.00" y="127.70" width="7.22" height="1.90" fill="#c6c6c6" />
<rect x="438.82" y="127.70" width="71.18" height="1.90" fill="#c6c6c6" />
<line x1="319.50" y1="131.10" x2="520.00" y2="131.10" stroke="#ccd4e0" stroke-width="0.55" />
<rect x="363.62" y="130.20" width="24.98" height="1.90" fill="#c6c6c6" />
<rect x="438.47" y="130.20" width="71.53" height="1.90" fill="#c6c6c6" />
<rect x="476.39" y="130.20" width="4.48" height="1.90" fill="#ffffff" />
<rect x="369.48" y="132.70" width="19.12" height="1.90" fill="#c6c6c6" />
<rect x="441.68" y="132.70" width="68.32" height="1.90" fill="#c6c6c6" />
<line x1="319.50" y1="136.10" x2="520.00" y2="136.10" stroke="#ccd4e0" stroke-width="0.55" />
<rect x="369.66" y="135.20" width="18.94" height="1.90" fill="#c6c6c6" />
<rect x="444.91" y="135.20" width="65.09" height="1.90" fill="#c6c6c6" />
<line x1="319.50" y1="138.60" x2="520.00" y2="138.60" stroke="#ccd4e0" stroke-width="0.55" />
<rect x="369.04" y="137.70" width="19.56" height="1.90" fill="#c6c6c6" />
<rect x="445.33" y="137.70" width="54.85" height="1.90" fill="#c6c6c6" />
<line x1="319.50" y1="141.10" x2="520.00" y2="141.10" stroke="#ccd4e0" stroke-width="0.55" />
<rect x="366.68" y="140.20" width="21.92" height="1.90" fill="#c6c6c6" />
<rect x="450.07" y="140.20" width="59.93" height="1.90" fill="#c6c6c6" />
<line x1="319.50" y1="143.60" x2="520.00" y2="143.60" stroke="#ccd4e0" stroke-width="0.55" />
<rect x="348.00" y="142.70" width="4.00" height="1.90" fill="#c6c6c6" />
<rect x="451.54" y="142.70" width="49.45" height="1.90" fill="#c6c6c6" />
<line x1="319.50" y1="146.10" x2="520.00" y2="146.10" stroke="#ccd4e0" stroke-width="0.55" />
<rect x="455.90" y="145.20" width="54.10" height="1.90" fill="#c6c6c6" />
<line x1="319.50" y1="148.60" x2="520.00" y2="148.60" stroke="#ccd4e0" stroke-width="0.55" />
<rect x="460.59" y="147.70" width="49.41" height="1.90" fill="#c6c6c6" />
<rect x="464.53" y="150.20" width="45.47" height="1.90" fill="#c6c6c6" />
<rect x="468.55" y="152.70" width="41.45" height="1.90" fill="#c6c6c6" />
<rect x="473.51" y="155.20" width="36.49" height="1.90" fill="#c6c6c6" />
<rect x="352.00" y="42.50" width="36.50" height="1.60" fill="#cfe9d4" />
<rect x="352.00" y="46.00" width="36.50" height="1.60" fill="#d6eed9" />
<rect x="352.00" y="44.20" width="36.50" height="1.90" fill="#15703a" />
<rect x="352.00" y="47.40" width="36.50" height="1.60" fill="#cfe9d4" />
<rect x="352.00" y="50.90" width="36.50" height="1.60" fill="#d6eed9" />
<rect x="352.00" y="49.10" width="36.50" height="1.90" fill="#15803f" />
<rect x="367.00" y="55.20" width="21.50" height="1.60" fill="#cfe9d4" />
<rect x="367.00" y="58.70" width="21.50" height="1.60" fill="#d6eed9" />
<rect x="367.00" y="56.90" width="21.50" height="1.90" fill="#1b7a3c" />
<rect x="456.00" y="42.20" width="38.00" height="1.60" fill="#cfe9d4" />
<rect x="456.00" y="45.70" width="38.00" height="1.60" fill="#d6eed9" />
<rect x="456.00" y="43.90" width="38.00" height="1.90" fill="#15703a" />
<rect x="456.00" y="47.40" width="38.00" height="1.60" fill="#cfe9d4" />
<rect x="456.00" y="50.90" width="38.00" height="1.60" fill="#d6eed9" />
<rect x="456.00" y="49.10" width="38.00" height="1.90" fill="#15803f" />
<rect x="468.00" y="55.20" width="38.00" height="1.60" fill="#cfe9d4" />
<rect x="468.00" y="58.70" width="38.00" height="1.60" fill="#d6eed9" />
<rect x="468.00" y="56.90" width="38.00" height="1.90" fill="#1b7a3c" />
<line x1="319.50" y1="158.80" x2="520.00" y2="158.80" stroke="#c8aa98" stroke-width="1.8" />
<line x1="319.50" y1="162.60" x2="520.00" y2="162.60" stroke="#6c7fc0" stroke-width="0.5" />
<rect x="347.80" y="161.20" width="40.80" height="2.70" fill="#1a1f88" />
<rect x="437.00" y="161.20" width="73.00" height="2.70" fill="#1a1f88" />
<text x="356.58" y="173.60" font-size="6.4" fill="#222" font-weight="normal" font-style="normal" textLength="24.34" lengthAdjust="spacingAndGlyphs" stroke="#222" stroke-width="0.28" >Exons 7</text>
<text x="462.18" y="173.60" font-size="6.4" fill="#222" font-weight="normal" font-style="normal" textLength="27.14" lengthAdjust="spacingAndGlyphs" stroke="#222" stroke-width="0.28" >Exons 17</text>
<line x1="0.00" y1="188.40" x2="520.00" y2="188.40" stroke="#eaeeea" stroke-width="0.8" />
<line x1="300.00" y1="178.70" x2="520.00" y2="178.70" stroke="#f2f2f2" stroke-width="0.8" />
<text x="0.18" y="201.30" font-size="12.4" fill="#111" font-weight="bold" font-style="normal" textLength="9.44" lengthAdjust="spacingAndGlyphs"  >C</text>
<text x="7.38" y="215.00" font-size="8.4" fill="#222" font-weight="normal" font-style="italic" textLength="16.04" lengthAdjust="spacingAndGlyphs" stroke="#222" stroke-width="0.28" >RB1</text>
<text x="7.67" y="225.20" font-size="8.6" fill="#222" font-weight="normal" font-style="normal" textLength="21.56" lengthAdjust="spacingAndGlyphs" stroke="#222" stroke-width="0.28" >CASE</text>
<text x="42.00" y="220.70" font-size="6" fill="#333" text-anchor="start" font-weight="normal" font-style="normal" stroke="#333" stroke-width="0.28" >5'</text>
<text x="142.65" y="209.90" font-size="7.0" fill="#222" font-weight="normal" font-style="normal" textLength="58.20" lengthAdjust="spacingAndGlyphs" stroke="#222" stroke-width="0.28" >Tandem duplication</text>
<rect x="48.60" y="211.30" width="67.40" height="13.50" fill="#fbc800" />
<rect x="116.80" y="212.00" width="53.00" height="12.40" fill="#131313" />
<rect x="170.20" y="212.00" width="1.30" height="12.40" fill="#7a7a70" />
<rect x="171.80" y="212.00" width="53.30" height="12.40" fill="#131313" />
<rect x="225.90" y="211.30" width="67.30" height="13.50" fill="#fbc800" />
<line x1="48.60" y1="224.50" x2="116.00" y2="224.50" stroke="#b09000" stroke-width="0.6" />
<line x1="225.90" y1="224.50" x2="293.20" y2="224.50" stroke="#b09000" stroke-width="0.6" />
<text x="65.47" y="220.60" font-size="6.5" fill="#3a2a00" font-weight="normal" font-style="normal" textLength="31.05" lengthAdjust="spacingAndGlyphs" stroke="#3a2a00" stroke-width="0.15" >Exons 1–6</text>
<text x="125.47" y="220.60" font-size="6.5" fill="#e4cc74" font-weight="normal" font-style="normal" textLength="34.15" lengthAdjust="spacingAndGlyphs" stroke="#e4cc74" stroke-width="0.1" >Exons 7–17</text>
<text x="180.93" y="220.60" font-size="6.5" fill="#e4cc74" font-weight="normal" font-style="normal" textLength="33.90" lengthAdjust="spacingAndGlyphs" stroke="#e4cc74" stroke-width="0.1" >Exons 7–17</text>
<text x="236.88" y="220.60" font-size="6.5" fill="#3a2a00" font-weight="normal" font-style="normal" textLength="38.75" lengthAdjust="spacingAndGlyphs" stroke="#3a2a00" stroke-width="0.15" >Exons 18–27</text>
<text x="295.80" y="220.50" font-size="5.5" fill="#555" text-anchor="start" font-weight="normal" font-style="normal" stroke="#555" stroke-width="0.28" >3'</text>
<line x1="110.50" y1="234.05" x2="122.30" y2="234.05" stroke="#b9b9b9" stroke-width="0.8" />
<polygon points="95.2,229.6 107.7,229.6 110.5,234.05 107.7,238.5 95.2,238.5" fill="#d3d3d3"/>
<text x="102.85" y="236.15" font-size="6" fill="#555" text-anchor="middle" font-weight="normal" font-style="normal" stroke="#555" stroke-width="0.28" >a</text>
<polygon points="125.1,229.6 137,229.6 137,238.5 125.1,238.5 122.3,234.05" fill="#d3d3d3"/>
<text x="129.65" y="236.15" font-size="6" fill="#555" text-anchor="middle" font-weight="normal" font-style="normal" stroke="#555" stroke-width="0.28" >b</text>
<line x1="166.00" y1="234.05" x2="177.60" y2="234.05" stroke="#16803e" stroke-width="1.1" />
<polygon points="149.8,229.6 163.2,229.6 166,234.05 163.2,238.5 149.8,238.5" fill="#0f9a47"/>
<text x="157.90" y="236.15" font-size="6" fill="#0a5a2a" text-anchor="middle" font-weight="normal" font-style="normal" stroke="#0a5a2a" stroke-width="0.28" >c</text>
<polygon points="180.4,229.6 192.3,229.6 192.3,238.5 180.4,238.5 177.6,234.05" fill="#0f9a47"/>
<text x="184.95" y="236.15" font-size="6" fill="#0a5a2a" text-anchor="middle" font-weight="normal" font-style="normal" stroke="#0a5a2a" stroke-width="0.28" >d</text>
<line x1="220.00" y1="234.05" x2="233.00" y2="234.05" stroke="#b9b9b9" stroke-width="0.8" />
<polygon points="205.4,229.6 217.2,229.6 220,234.05 217.2,238.5 205.4,238.5" fill="#d3d3d3"/>
<text x="212.70" y="236.15" font-size="6" fill="#555" text-anchor="middle" font-weight="normal" font-style="normal" stroke="#555" stroke-width="0.28" >e</text>
<polygon points="235.8,229.6 247.5,229.6 247.5,238.5 235.8,238.5 233,234.05" fill="#d3d3d3"/>
<text x="240.25" y="236.15" font-size="6" fill="#555" text-anchor="middle" font-weight="normal" font-style="normal" stroke="#555" stroke-width="0.28" >f</text>
<polyline points="116.3,240 116.3,259.7 142.6,279.7 142.6,286.5" fill="none" stroke="#9a9a9a" stroke-width="0.6" stroke-dasharray="0.9 0.9"/>
<polyline points="156.3,240 156.3,253.5 184.6,264 184.6,271" fill="none" stroke="#9a9a9a" stroke-width="0.6" stroke-dasharray="0.9 0.9"/>
<polyline points="185.2,240 185.2,253.5 156.8,264 156.8,271" fill="none" stroke="#9a9a9a" stroke-width="0.6" stroke-dasharray="0.9 0.9"/>
<polyline points="227.4,240 227.4,259.7 198.2,279.7 198.2,286.5" fill="none" stroke="#9a9a9a" stroke-width="0.6" stroke-dasharray="0.9 0.9"/>
<polygon points="141.7,285.6 143.5,285.6 142.6,287" fill="#666"/>
<polygon points="183.7,271.1 185.5,271.1 184.6,272.5" fill="#666"/>
<polygon points="155.9,271.1 157.70000000000002,271.1 156.8,272.5" fill="#666"/>
<polygon points="197.29999999999998,285.6 199.1,285.6 198.2,287" fill="#666"/>
<polygon points="21,258.6 34,258.6 37.2,262.8 34,267 21,267" fill="#0f9a47"/>
<text x="40.71" y="261.50" font-size="5.8" fill="#222" font-weight="normal" font-style="normal" textLength="44.18" lengthAdjust="spacingAndGlyphs" stroke="#222" stroke-width="0.12" >Reads supporting</text>
<text x="40.71" y="267.50" font-size="5.8" fill="#222" font-weight="normal" font-style="normal" textLength="46.58" lengthAdjust="spacingAndGlyphs" stroke="#222" stroke-width="0.12" >tandem duplication</text>
<polygon points="152.3,273.6 164.8,273.6 164.8,281.6 152.3,281.6 149.5,277.6" fill="#0f9a47"/>
<text x="157.15" y="279.70" font-size="6" fill="#0a5a2a" text-anchor="middle" font-weight="normal" font-style="normal" stroke="#0a5a2a" stroke-width="0.28" >d</text>
<polygon points="177,273.6 189.6,273.6 192.4,277.6 189.6,281.6 177,281.6" fill="#0f9a47"/>
<text x="184.70" y="279.70" font-size="6" fill="#0a5a2a" text-anchor="middle" font-weight="normal" font-style="normal" stroke="#0a5a2a" stroke-width="0.28" >c</text>
<line x1="137.30" y1="289.20" x2="148.90" y2="289.20" stroke="#b9b9b9" stroke-width="0.8" />
<polygon points="122,285 134.5,285 137.3,289.2 134.5,293.4 122,293.4" fill="#d3d3d3"/>
<text x="129.65" y="291.30" font-size="6" fill="#555" text-anchor="middle" font-weight="normal" font-style="normal" stroke="#555" stroke-width="0.28" >a</text>
<polygon points="151.70000000000002,285 164.6,285 164.6,293.4 151.70000000000002,293.4 148.9,289.2" fill="#d3d3d3"/>
<text x="156.75" y="291.30" font-size="6" fill="#555" text-anchor="middle" font-weight="normal" font-style="normal" stroke="#555" stroke-width="0.28" >b</text>
<line x1="191.60" y1="289.20" x2="203.80" y2="289.20" stroke="#b9b9b9" stroke-width="0.8" />
<polygon points="176.8,285 188.79999999999998,285 191.6,289.2 188.79999999999998,293.4 176.8,293.4" fill="#d3d3d3"/>
<text x="184.20" y="291.30" font-size="6" fill="#555" text-anchor="middle" font-weight="normal" font-style="normal" stroke="#555" stroke-width="0.28" >e</text>
<polygon points="206.60000000000002,285 219,285 219,293.4 206.60000000000002,293.4 203.8,289.2" fill="#d3d3d3"/>
<text x="211.40" y="291.30" font-size="6" fill="#555" text-anchor="middle" font-weight="normal" font-style="normal" stroke="#555" stroke-width="0.28" >f</text>
<text x="7.38" y="300.00" font-size="8.4" fill="#222" font-weight="normal" font-style="italic" textLength="16.04" lengthAdjust="spacingAndGlyphs" stroke="#222" stroke-width="0.28" >RB1</text>
<text x="7.28" y="309.80" font-size="8.5" fill="#222" font-weight="normal" font-style="normal" textLength="50.85" lengthAdjust="spacingAndGlyphs" stroke="#222" stroke-width="0.28" >REFERENCE</text>
<text x="70.50" y="305.80" font-size="6" fill="#6a70a8" text-anchor="start" font-weight="normal" font-style="normal" stroke="#6a70a8" stroke-width="0.28" >5'</text>
<rect x="76.30" y="296.90" width="67.60" height="12.40" fill="#fbc800" />
<rect x="143.90" y="296.90" width="54.00" height="12.30" fill="#131313" />
<rect x="198.60" y="296.90" width="67.00" height="12.40" fill="#fbc800" />
<text x="92.67" y="305.70" font-size="6.5" fill="#3a2a00" font-weight="normal" font-style="normal" textLength="32.65" lengthAdjust="spacingAndGlyphs" stroke="#3a2a00" stroke-width="0.15" >Exons 1–6</text>
<text x="153.43" y="305.70" font-size="6.5" fill="#e4cc74" font-weight="normal" font-style="normal" textLength="34.90" lengthAdjust="spacingAndGlyphs" stroke="#e4cc74" stroke-width="0.1" >Exons 7–17</text>
<text x="212.38" y="305.70" font-size="6.5" fill="#3a2a00" font-weight="normal" font-style="normal" textLength="39.15" lengthAdjust="spacingAndGlyphs" stroke="#3a2a00" stroke-width="0.15" >Exons 18–27</text>
<text x="268.80" y="305.80" font-size="6" fill="#6a6a90" text-anchor="start" font-weight="normal" font-style="normal" stroke="#6a6a90" stroke-width="0.28" >3'</text>
<text x="306.18" y="198.90" font-size="12.4" fill="#111" font-weight="bold" font-style="normal" textLength="9.54" lengthAdjust="spacingAndGlyphs"  >D</text>
<defs>
<pattern id="gs" width="7" height="1.6" patternUnits="userSpaceOnUse"><rect width="7" height="1.6" fill="#18a852"/><rect y="1.2" width="7" height="0.4" fill="#0e8a44"/><rect x="3" y="0.3" width="1" height="0.8" fill="#3cc070"/></pattern>
<filter id="ihc" x="0" y="0" width="100%" height="100%">
 <feTurbulence type="fractalNoise" baseFrequency="0.45" numOctaves="3" seed="3" result="n"/>
 <feColorMatrix in="n" type="matrix" values="0 0 0 0 0.68  0 0 0 0 0.69  0 0 0 0 0.80  0 0 0 4.5 -1.9" result="c"/>
 <feComposite in="c" in2="SourceGraphic" operator="in"/>
</filter>
<filter id="ihc2" x="0" y="0" width="100%" height="100%">
 <feTurbulence type="fractalNoise" baseFrequency="0.9" numOctaves="1" seed="9" result="n"/>
 <feColorMatrix in="n" type="matrix" values="0 0 0 0 0.96  0 0 0 0 0.96  0 0 0 0 0.98  0 0 0 4 -1.9" result="c"/>
 <feComposite in="c" in2="SourceGraphic" operator="in"/>
</filter>
<filter id="blur1" x="-20%" y="-20%" width="140%" height="140%"><feGaussianBlur stdDeviation="1.3"/></filter>
<filter id="blur2"><feGaussianBlur stdDeviation="0.9"/></filter>
<radialGradient id="nuc" cx="50%" cy="45%" r="55%">
 <stop offset="0" stop-color="#20208c"/><stop offset="0.75" stop-color="#26269c"/><stop offset="1" stop-color="#181866"/>
</radialGradient>
<radialGradient id="nucb" cx="50%" cy="45%" r="55%">
 <stop offset="0" stop-color="#2a2aa4"/><stop offset="0.75" stop-color="#3030b0"/><stop offset="1" stop-color="#1c1c74"/>
</radialGradient>
<radialGradient id="nucd" cx="50%" cy="45%" r="60%">
 <stop offset="0" stop-color="#181860"/><stop offset="1" stop-color="#10104a"/>
</radialGradient>
</defs>
<rect x="320.20" y="204.00" width="99.40" height="99.40" fill="#d2d0d6" />
<rect x="320.20" y="204.00" width="99.40" height="99.40" fill="#fff" filter="url(#ihc)"/>
<rect x="320.20" y="204.00" width="99.40" height="99.40" fill="#fff" filter="url(#ihc2)"/>
<circle cx="338.3" cy="280.3" r="0.54" fill="#a86a3a" opacity="0.4"/>
<circle cx="340.5" cy="279.4" r="0.54" fill="#a86a3a" opacity="0.4"/>
<circle cx="336.8" cy="271.6" r="0.54" fill="#a86a3a" opacity="0.4"/>
<circle cx="335.6" cy="294.2" r="0.54" fill="#a86a3a" opacity="0.4"/>
<circle cx="332.5" cy="282.6" r="0.54" fill="#a86a3a" opacity="0.4"/>
<circle cx="342.6" cy="291.6" r="0.54" fill="#a86a3a" opacity="0.4"/>
<circle cx="334.3" cy="276.8" r="0.54" fill="#a86a3a" opacity="0.4"/>
<circle cx="335.0" cy="280.0" r="0.54" fill="#a86a3a" opacity="0.4"/>
<circle cx="338.9" cy="293.8" r="0.54" fill="#a86a3a" opacity="0.4"/>
<circle cx="347.0" cy="291.8" r="0.54" fill="#a86a3a" opacity="0.4"/>
<circle cx="330.4" cy="270.8" r="0.54" fill="#a86a3a" opacity="0.4"/>
<circle cx="344.2" cy="292.4" r="0.54" fill="#a86a3a" opacity="0.4"/>
<circle cx="339.5" cy="284.7" r="0.54" fill="#a86a3a" opacity="0.4"/>
<circle cx="330.0" cy="279.8" r="0.54" fill="#a86a3a" opacity="0.4"/>
<circle cx="348.5" cy="290.6" r="0.54" fill="#a86a3a" opacity="0.4"/>
<circle cx="404.5" cy="299.7" r="0.40" fill="#9aa0c8" opacity="0.6"/>
<circle cx="343.0" cy="219.8" r="0.69" fill="#9aa0c8" opacity="0.6"/>
<circle cx="412.9" cy="275.3" r="0.56" fill="#c09070" opacity="0.6"/>
<circle cx="329.5" cy="280.7" r="0.30" fill="#a8a0b8" opacity="0.6"/>
<circle cx="343.9" cy="294.6" r="0.56" fill="#b8b0c8" opacity="0.6"/>
<circle cx="414.9" cy="266.0" r="0.51" fill="#c09070" opacity="0.6"/>
<circle cx="389.2" cy="215.9" r="0.33" fill="#a8a0b8" opacity="0.6"/>
<circle cx="359.0" cy="226.8" r="0.54" fill="#9aa0c8" opacity="0.6"/>
<circle cx="373.6" cy="302.0" r="0.41" fill="#b8b0c8" opacity="0.6"/>
<circle cx="384.0" cy="291.1" r="0.49" fill="#a8a0b8" opacity="0.6"/>
<circle cx="374.5" cy="207.9" r="0.46" fill="#b8b0c8" opacity="0.6"/>
<circle cx="326.6" cy="223.9" r="0.65" fill="#c09070" opacity="0.6"/>
<circle cx="329.1" cy="227.2" r="0.47" fill="#b8b0c8" opacity="0.6"/>
<circle cx="343.3" cy="208.3" r="0.44" fill="#c09070" opacity="0.6"/>
<circle cx="356.5" cy="243.6" r="0.30" fill="#b8b0c8" opacity="0.6"/>
<circle cx="393.2" cy="254.2" r="0.38" fill="#a8a0b8" opacity="0.6"/>
<circle cx="351.6" cy="284.9" r="0.39" fill="#a8a0b8" opacity="0.6"/>
<circle cx="347.0" cy="291.6" r="0.34" fill="#c09070" opacity="0.6"/>
<circle cx="380.6" cy="292.3" r="0.49" fill="#9aa0c8" opacity="0.6"/>
<circle cx="413.6" cy="219.3" r="0.46" fill="#a8a0b8" opacity="0.6"/>
<circle cx="323.5" cy="263.1" r="0.47" fill="#9aa0c8" opacity="0.6"/>
<circle cx="339.1" cy="248.8" r="0.58" fill="#b8b0c8" opacity="0.6"/>
<circle cx="392.6" cy="302.2" r="0.67" fill="#b8b0c8" opacity="0.6"/>
<circle cx="339.8" cy="268.6" r="0.51" fill="#c09070" opacity="0.6"/>
<circle cx="324.3" cy="269.7" r="0.45" fill="#b8b0c8" opacity="0.6"/>
<circle cx="417.1" cy="248.1" r="0.34" fill="#9aa0c8" opacity="0.6"/>
<circle cx="348.5" cy="239.2" r="0.68" fill="#9aa0c8" opacity="0.6"/>
<circle cx="375.9" cy="278.9" r="0.45" fill="#b8b0c8" opacity="0.6"/>
<circle cx="401.3" cy="247.1" r="0.32" fill="#c09070" opacity="0.6"/>
<circle cx="340.3" cy="257.7" r="0.48" fill="#b8b0c8" opacity="0.6"/>
<circle cx="356.7" cy="292.4" r="0.31" fill="#c09070" opacity="0.6"/>
<circle cx="345.4" cy="265.9" r="0.46" fill="#c09070" opacity="0.6"/>
<circle cx="324.6" cy="211.1" r="0.67" fill="#b8b0c8" opacity="0.6"/>
<circle cx="340.2" cy="211.1" r="0.54" fill="#b8b0c8" opacity="0.6"/>
<circle cx="347.7" cy="298.3" r="0.55" fill="#b8b0c8" opacity="0.6"/>
<circle cx="393.9" cy="272.2" r="0.67" fill="#b8b0c8" opacity="0.6"/>
<circle cx="321.6" cy="278.6" r="0.67" fill="#9aa0c8" opacity="0.6"/>
<circle cx="323.6" cy="227.8" r="0.49" fill="#c09070" opacity="0.6"/>
<circle cx="414.1" cy="242.6" r="0.40" fill="#c09070" opacity="0.6"/>
<circle cx="400.6" cy="217.9" r="0.50" fill="#9aa0c8" opacity="0.6"/>
<rect x="320.45" y="204.25" width="98.90" height="98.90" fill="none" stroke="#4a4a4a" stroke-width="0.6"/>
<text x="322.13" y="213.50" font-size="9.3" fill="#111" font-weight="normal" font-style="normal" textLength="20.03" lengthAdjust="spacingAndGlyphs" stroke="#111" stroke-width="0.28" >s116</text>
<text x="397.27" y="300.90" font-size="8.6" fill="#111" font-weight="normal" font-style="normal" textLength="18.96" lengthAdjust="spacingAndGlyphs" stroke="#111" stroke-width="0.28" >200X</text>
<rect x="320.20" y="307.20" width="99.40" height="98.60" fill="#d6d0cc" />
<ellipse cx="332" cy="372" rx="12" ry="22" fill="#c8a080" opacity="0.2" filter="url(#blur1)"/>
<ellipse cx="360" cy="335" rx="10" ry="5" fill="#c8a080" opacity="0.15" filter="url(#blur1)"/>
<rect x="320.20" y="307.20" width="99.40" height="98.60" fill="#fff" filter="url(#ihc)"/>
<rect x="320.20" y="307.20" width="99.40" height="98.60" fill="#fff" filter="url(#ihc2)"/>
<circle cx="356.8" cy="345.9" r="0.63" fill="#a86a3a" opacity="0.6"/>
<circle cx="362.5" cy="339.8" r="0.54" fill="#a86a3a" opacity="0.6"/>
<circle cx="353.7" cy="341.8" r="0.63" fill="#a86a3a" opacity="0.6"/>
<circle cx="365.8" cy="327.8" r="0.59" fill="#a86a3a" opacity="0.6"/>
<circle cx="370.7" cy="335.4" r="0.72" fill="#a86a3a" opacity="0.6"/>
<circle cx="365.8" cy="328.8" r="0.54" fill="#a86a3a" opacity="0.6"/>
<circle cx="358.9" cy="340.9" r="0.54" fill="#a86a3a" opacity="0.6"/>
<circle cx="364.1" cy="342.6" r="0.68" fill="#a86a3a" opacity="0.6"/>
<circle cx="358.9" cy="343.8" r="0.50" fill="#a86a3a" opacity="0.6"/>
<circle cx="364.5" cy="341.7" r="0.45" fill="#a86a3a" opacity="0.6"/>
<circle cx="366.9" cy="328.6" r="0.68" fill="#a86a3a" opacity="0.6"/>
<circle cx="363.8" cy="339.8" r="0.72" fill="#a86a3a" opacity="0.6"/>
<circle cx="364.7" cy="340.5" r="0.63" fill="#a86a3a" opacity="0.6"/>
<circle cx="345.0" cy="346.7" r="0.68" fill="#a86a3a" opacity="0.6"/>
<circle cx="356.2" cy="341.8" r="0.50" fill="#a86a3a" opacity="0.6"/>
<circle cx="367.6" cy="329.5" r="0.59" fill="#a86a3a" opacity="0.6"/>
<circle cx="349.2" cy="348.1" r="0.54" fill="#a86a3a" opacity="0.6"/>
<circle cx="370.0" cy="333.7" r="0.45" fill="#a86a3a" opacity="0.6"/>
<circle cx="364.8" cy="339.0" r="0.54" fill="#a86a3a" opacity="0.6"/>
<circle cx="367.5" cy="325.9" r="0.59" fill="#a86a3a" opacity="0.6"/>
<circle cx="359.9" cy="338.6" r="0.50" fill="#a86a3a" opacity="0.6"/>
<circle cx="358.7" cy="340.9" r="0.45" fill="#a86a3a" opacity="0.6"/>
<circle cx="355.9" cy="341.2" r="0.45" fill="#a86a3a" opacity="0.6"/>
<circle cx="367.5" cy="336.1" r="0.45" fill="#a86a3a" opacity="0.6"/>
<circle cx="370.3" cy="327.5" r="0.50" fill="#a86a3a" opacity="0.6"/>
<circle cx="370.7" cy="331.4" r="0.59" fill="#a86a3a" opacity="0.6"/>
<circle cx="367.0" cy="336.2" r="0.72" fill="#a86a3a" opacity="0.6"/>
<circle cx="365.7" cy="335.6" r="0.45" fill="#a86a3a" opacity="0.6"/>
<circle cx="372.8" cy="322.7" r="0.68" fill="#a86a3a" opacity="0.6"/>
<circle cx="369.4" cy="335.3" r="0.45" fill="#a86a3a" opacity="0.6"/>
<circle cx="370.6" cy="324.3" r="0.68" fill="#a86a3a" opacity="0.6"/>
<circle cx="370.4" cy="325.0" r="0.59" fill="#a86a3a" opacity="0.6"/>
<circle cx="367.9" cy="327.6" r="0.68" fill="#a86a3a" opacity="0.6"/>
<circle cx="369.5" cy="328.2" r="0.72" fill="#a86a3a" opacity="0.6"/>
<circle cx="366.6" cy="331.8" r="0.72" fill="#a86a3a" opacity="0.6"/>
<circle cx="363.9" cy="340.5" r="0.54" fill="#a86a3a" opacity="0.6"/>
<circle cx="351.8" cy="347.5" r="0.45" fill="#a86a3a" opacity="0.6"/>
<circle cx="354.4" cy="343.1" r="0.68" fill="#a86a3a" opacity="0.6"/>
<circle cx="352.3" cy="342.7" r="0.54" fill="#a86a3a" opacity="0.6"/>
<circle cx="365.6" cy="336.7" r="0.50" fill="#a86a3a" opacity="0.6"/>
<circle cx="361.0" cy="340.0" r="0.59" fill="#a86a3a" opacity="0.6"/>
<circle cx="354.5" cy="345.3" r="0.45" fill="#a86a3a" opacity="0.6"/>
<circle cx="364.2" cy="341.5" r="0.50" fill="#a86a3a" opacity="0.6"/>
<circle cx="367.5" cy="335.5" r="0.63" fill="#a86a3a" opacity="0.6"/>
<circle cx="366.5" cy="334.0" r="0.59" fill="#a86a3a" opacity="0.6"/>
<circle cx="364.9" cy="339.7" r="0.63" fill="#a86a3a" opacity="0.6"/>
<circle cx="364.8" cy="337.0" r="0.45" fill="#a86a3a" opacity="0.6"/>
<circle cx="369.0" cy="324.5" r="0.54" fill="#a86a3a" opacity="0.6"/>
<circle cx="363.6" cy="339.6" r="0.45" fill="#a86a3a" opacity="0.6"/>
<circle cx="359.9" cy="342.9" r="0.41" fill="#a86a3a" opacity="0.6"/>
<circle cx="365.6" cy="341.3" r="0.45" fill="#a86a3a" opacity="0.6"/>
<circle cx="356.0" cy="346.2" r="0.68" fill="#a86a3a" opacity="0.6"/>
<circle cx="371.7" cy="328.9" r="0.72" fill="#a86a3a" opacity="0.6"/>
<circle cx="348.5" cy="347.4" r="0.72" fill="#a86a3a" opacity="0.6"/>
<circle cx="369.0" cy="326.6" r="0.45" fill="#a86a3a" opacity="0.6"/>
<circle cx="350.0" cy="347.3" r="0.45" fill="#a86a3a" opacity="0.6"/>
<circle cx="368.9" cy="336.8" r="0.50" fill="#a86a3a" opacity="0.6"/>
<circle cx="365.3" cy="335.9" r="0.45" fill="#a86a3a" opacity="0.6"/>
<circle cx="371.7" cy="329.1" r="0.68" fill="#a86a3a" opacity="0.6"/>
<circle cx="370.8" cy="325.9" r="0.59" fill="#a86a3a" opacity="0.6"/>
<circle cx="361.5" cy="343.6" r="0.59" fill="#a86a3a" opacity="0.6"/>
<circle cx="367.0" cy="338.1" r="0.72" fill="#a86a3a" opacity="0.6"/>
<circle cx="362.0" cy="343.0" r="0.50" fill="#a86a3a" opacity="0.6"/>
<circle cx="347.9" cy="346.0" r="0.63" fill="#a86a3a" opacity="0.6"/>
<circle cx="364.9" cy="338.1" r="0.41" fill="#a86a3a" opacity="0.6"/>
<circle cx="353.1" cy="345.0" r="0.72" fill="#a86a3a" opacity="0.6"/>
<circle cx="365.5" cy="339.4" r="0.41" fill="#a86a3a" opacity="0.6"/>
<circle cx="368.0" cy="324.7" r="0.54" fill="#a86a3a" opacity="0.6"/>
<circle cx="368.7" cy="336.6" r="0.50" fill="#a86a3a" opacity="0.6"/>
<circle cx="358.8" cy="338.6" r="0.50" fill="#a86a3a" opacity="0.6"/>
<circle cx="322.6" cy="360.9" r="0.45" fill="#a86a3a" opacity="0.5"/>
<circle cx="329.8" cy="366.0" r="0.45" fill="#a86a3a" opacity="0.5"/>
<circle cx="330.4" cy="363.4" r="0.45" fill="#a86a3a" opacity="0.5"/>
<circle cx="335.0" cy="358.4" r="0.45" fill="#a86a3a" opacity="0.5"/>
<circle cx="322.4" cy="367.0" r="0.63" fill="#a86a3a" opacity="0.5"/>
<circle cx="332.7" cy="361.8" r="0.50" fill="#a86a3a" opacity="0.5"/>
<circle cx="321.2" cy="367.2" r="0.54" fill="#a86a3a" opacity="0.5"/>
<circle cx="326.3" cy="367.2" r="0.54" fill="#a86a3a" opacity="0.5"/>
<circle cx="335.1" cy="369.1" r="0.45" fill="#a86a3a" opacity="0.5"/>
<circle cx="334.6" cy="354.0" r="0.54" fill="#a86a3a" opacity="0.5"/>
<circle cx="327.1" cy="358.2" r="0.41" fill="#a86a3a" opacity="0.5"/>
<circle cx="332.7" cy="353.3" r="0.54" fill="#a86a3a" opacity="0.5"/>
<circle cx="335.1" cy="356.1" r="0.45" fill="#a86a3a" opacity="0.5"/>
<circle cx="330.1" cy="364.2" r="0.59" fill="#a86a3a" opacity="0.5"/>
<circle cx="333.2" cy="356.8" r="0.50" fill="#a86a3a" opacity="0.5"/>
<circle cx="325.5" cy="354.1" r="0.63" fill="#a86a3a" opacity="0.5"/>
<circle cx="332.7" cy="368.7" r="0.41" fill="#a86a3a" opacity="0.5"/>
<circle cx="333.7" cy="369.4" r="0.54" fill="#a86a3a" opacity="0.5"/>
<circle cx="332.1" cy="363.0" r="0.45" fill="#a86a3a" opacity="0.5"/>
<circle cx="322.6" cy="358.1" r="0.41" fill="#a86a3a" opacity="0.5"/>
<circle cx="326.0" cy="369.5" r="0.59" fill="#a86a3a" opacity="0.5"/>
<circle cx="333.7" cy="368.7" r="0.50" fill="#a86a3a" opacity="0.5"/>
<circle cx="329.3" cy="362.6" r="0.63" fill="#a86a3a" opacity="0.5"/>
<circle cx="328.8" cy="358.8" r="0.59" fill="#a86a3a" opacity="0.5"/>
<circle cx="335.5" cy="357.8" r="0.63" fill="#a86a3a" opacity="0.5"/>
<circle cx="321.2" cy="358.7" r="0.45" fill="#a86a3a" opacity="0.5"/>
<circle cx="332.2" cy="373.8" r="0.59" fill="#a86a3a" opacity="0.5"/>
<circle cx="325.9" cy="372.4" r="0.50" fill="#a86a3a" opacity="0.5"/>
<circle cx="324.6" cy="373.0" r="0.59" fill="#a86a3a" opacity="0.5"/>
<circle cx="331.4" cy="367.6" r="0.68" fill="#a86a3a" opacity="0.5"/>
<circle cx="328.0" cy="371.5" r="0.59" fill="#a86a3a" opacity="0.5"/>
<circle cx="333.9" cy="362.6" r="0.59" fill="#a86a3a" opacity="0.5"/>
<circle cx="329.6" cy="359.8" r="0.45" fill="#a86a3a" opacity="0.5"/>
<circle cx="330.3" cy="354.7" r="0.63" fill="#a86a3a" opacity="0.5"/>
<circle cx="323.2" cy="353.6" r="0.45" fill="#a86a3a" opacity="0.5"/>
<circle cx="334.9" cy="360.6" r="0.45" fill="#a86a3a" opacity="0.5"/>
<circle cx="321.4" cy="353.9" r="0.59" fill="#a86a3a" opacity="0.5"/>
<circle cx="330.5" cy="368.3" r="0.59" fill="#a86a3a" opacity="0.5"/>
<circle cx="322.0" cy="366.0" r="0.50" fill="#a86a3a" opacity="0.5"/>
<circle cx="333.3" cy="371.0" r="0.63" fill="#a86a3a" opacity="0.5"/>
<circle cx="322.0" cy="372.1" r="0.63" fill="#a86a3a" opacity="0.5"/>
<circle cx="335.2" cy="355.4" r="0.45" fill="#a86a3a" opacity="0.5"/>
<circle cx="322.7" cy="353.8" r="0.63" fill="#a86a3a" opacity="0.5"/>
<circle cx="333.2" cy="367.0" r="0.63" fill="#a86a3a" opacity="0.5"/>
<circle cx="330.5" cy="359.3" r="0.45" fill="#a86a3a" opacity="0.5"/>
<circle cx="340.9" cy="395.1" r="0.45" fill="#a86a3a" opacity="0.4"/>
<circle cx="342.9" cy="392.4" r="0.41" fill="#a86a3a" opacity="0.4"/>
<circle cx="342.3" cy="391.3" r="0.59" fill="#a86a3a" opacity="0.4"/>
<circle cx="343.3" cy="391.6" r="0.68" fill="#a86a3a" opacity="0.4"/>
<circle cx="344.5" cy="395.8" r="0.59" fill="#a86a3a" opacity="0.4"/>
<circle cx="340.3" cy="392.3" r="0.54" fill="#a86a3a" opacity="0.4"/>
<circle cx="347.0" cy="391.8" r="0.59" fill="#a86a3a" opacity="0.4"/>
<circle cx="344.8" cy="390.7" r="0.63" fill="#a86a3a" opacity="0.4"/>
<circle cx="340.8" cy="395.6" r="0.45" fill="#a86a3a" opacity="0.4"/>
<circle cx="340.0" cy="390.6" r="0.63" fill="#a86a3a" opacity="0.4"/>
<circle cx="416.4" cy="308.6" r="0.50" fill="#c09070" opacity="0.6"/>
<circle cx="388.9" cy="387.9" r="0.69" fill="#b8b0c8" opacity="0.6"/>
<circle cx="414.4" cy="358.0" r="0.53" fill="#a8a0b8" opacity="0.6"/>
<circle cx="348.8" cy="328.9" r="0.58" fill="#c09070" opacity="0.6"/>
<circle cx="337.3" cy="398.9" r="0.61" fill="#c09070" opacity="0.6"/>
<circle cx="397.9" cy="375.5" r="0.61" fill="#b8b0c8" opacity="0.6"/>
<circle cx="355.8" cy="347.0" r="0.46" fill="#9aa0c8" opacity="0.6"/>
<circle cx="362.3" cy="370.6" r="0.45" fill="#b8b0c8" opacity="0.6"/>
<circle cx="346.8" cy="395.3" r="0.50" fill="#c09070" opacity="0.6"/>
<circle cx="416.9" cy="369.1" r="0.68" fill="#a8a0b8" opacity="0.6"/>
<circle cx="373.0" cy="381.1" r="0.60" fill="#9aa0c8" opacity="0.6"/>
<circle cx="355.1" cy="339.8" r="0.36" fill="#c09070" opacity="0.6"/>
<circle cx="385.7" cy="379.9" r="0.37" fill="#c09070" opacity="0.6"/>
<circle cx="388.3" cy="333.0" r="0.39" fill="#b8b0c8" opacity="0.6"/>
<circle cx="366.2" cy="393.7" r="0.40" fill="#a8a0b8" opacity="0.6"/>
<circle cx="347.3" cy="381.1" r="0.63" fill="#a8a0b8" opacity="0.6"/>
<circle cx="391.7" cy="402.4" r="0.59" fill="#b8b0c8" opacity="0.6"/>
<circle cx="336.9" cy="339.9" r="0.38" fill="#9aa0c8" opacity="0.6"/>
<circle cx="337.2" cy="371.8" r="0.38" fill="#a8a0b8" opacity="0.6"/>
<circle cx="417.0" cy="385.0" r="0.59" fill="#c09070" opacity="0.6"/>
<circle cx="347.9" cy="318.8" r="0.66" fill="#b8b0c8" opacity="0.6"/>
<circle cx="341.3" cy="345.7" r="0.31" fill="#c09070" opacity="0.6"/>
<circle cx="404.4" cy="350.4" r="0.39" fill="#b8b0c8" opacity="0.6"/>
<circle cx="366.3" cy="321.9" r="0.54" fill="#c09070" opacity="0.6"/>
<circle cx="321.7" cy="331.6" r="0.64" fill="#c09070" opacity="0.6"/>
<circle cx="403.6" cy="372.7" r="0.56" fill="#a8a0b8" opacity="0.6"/>
<circle cx="387.4" cy="370.2" r="0.48" fill="#b8b0c8" opacity="0.6"/>
<circle cx="346.5" cy="375.9" r="0.66" fill="#a8a0b8" opacity="0.6"/>
<circle cx="397.4" cy="377.1" r="0.55" fill="#b8b0c8" opacity="0.6"/>
<circle cx="403.9" cy="354.8" r="0.31" fill="#c09070" opacity="0.6"/>
<circle cx="371.7" cy="372.1" r="0.65" fill="#b8b0c8" opacity="0.6"/>
<circle cx="397.0" cy="345.7" r="0.50" fill="#9aa0c8" opacity="0.6"/>
<circle cx="324.9" cy="360.7" r="0.36" fill="#a8a0b8" opacity="0.6"/>
<circle cx="371.8" cy="318.0" r="0.53" fill="#a8a0b8" opacity="0.6"/>
<circle cx="391.1" cy="357.7" r="0.56" fill="#b8b0c8" opacity="0.6"/>
<circle cx="372.0" cy="347.8" r="0.68" fill="#a8a0b8" opacity="0.6"/>
<circle cx="417.7" cy="326.0" r="0.51" fill="#9aa0c8" opacity="0.6"/>
<circle cx="392.2" cy="367.5" r="0.56" fill="#b8b0c8" opacity="0.6"/>
<circle cx="347.9" cy="346.8" r="0.31" fill="#c09070" opacity="0.6"/>
<circle cx="410.4" cy="368.9" r="0.57" fill="#b8b0c8" opacity="0.6"/>
<rect x="320.45" y="307.45" width="98.90" height="98.10" fill="none" stroke="#4a4a4a" stroke-width="0.6"/>
<text x="322.13" y="316.70" font-size="9.3" fill="#111" font-weight="normal" font-style="normal" textLength="20.03" lengthAdjust="spacingAndGlyphs" stroke="#111" stroke-width="0.28" >s117</text>
<text x="397.27" y="403.30" font-size="8.6" fill="#111" font-weight="normal" font-style="normal" textLength="18.96" lengthAdjust="spacingAndGlyphs" stroke="#111" stroke-width="0.28" >200X</text>
<svg x="419.6" y="204" width="99.6" height="99.4" viewBox="0 0 99.6 99.4" overflow="hidden">
<rect x="0.00" y="0.00" width="99.60" height="99.40" fill="#10103e" />
<g filter="url(#blur1)">
<ellipse cx="5.4" cy="8.0" rx="9" ry="10" fill="#04040e"/>
<ellipse cx="57.4" cy="5.0" rx="7" ry="6" fill="#04040e"/>
<ellipse cx="67.4" cy="35.0" rx="5" ry="7" fill="#04040e"/>
<ellipse cx="6.4" cy="67.0" rx="6" ry="4" fill="#04040e"/>
<ellipse cx="66.4" cy="59.0" rx="4" ry="4" fill="#04040e"/>
<ellipse cx="93.4" cy="92.0" rx="7" ry="9" fill="#04040e"/>
<ellipse cx="30.4" cy="98.0" rx="10" ry="3" fill="#04040e"/>
<ellipse cx="1.4" cy="39.0" rx="3" ry="6" fill="#04040e"/>
</g>
<g filter="url(#blur1)">
<ellipse cx="20.4" cy="11.0" rx="15.9" ry="10.3" transform="rotate(-10 20.4 11.0)" fill="url(#nuc)" stroke="#141450" stroke-width="1.4"/>
<ellipse cx="39.4" cy="27.0" rx="14.7" ry="11.3" transform="rotate(-15 39.4 27.0)" fill="url(#nuc)" stroke="#141450" stroke-width="1.4"/>
<ellipse cx="71.4" cy="10.0" rx="12.4" ry="11.3" transform="rotate(0 71.4 10.0)" fill="url(#nuc)" stroke="#141450" stroke-width="1.4"/>
<ellipse cx="87.4" cy="23.0" rx="11.9" ry="13.6" transform="rotate(0 87.4 23.0)" fill="url(#nucb)" stroke="#141450" stroke-width="1.4"/>
<ellipse cx="16.4" cy="51.0" rx="10.8" ry="13.0" transform="rotate(0 16.4 51.0)" fill="url(#nuc)" stroke="#141450" stroke-width="1.4"/>
<ellipse cx="26.4" cy="36.0" rx="11.9" ry="10.8" transform="rotate(-20 26.4 36.0)" fill="url(#nuc)" stroke="#141450" stroke-width="1.4"/>
<ellipse cx="55.4" cy="44.0" rx="14.7" ry="15.1" transform="rotate(-10 55.4 44.0)" fill="url(#nuc)" stroke="#141450" stroke-width="1.4"/>
<ellipse cx="80.4" cy="51.0" rx="13.6" ry="12.4" transform="rotate(0 80.4 51.0)" fill="url(#nuc)" stroke="#141450" stroke-width="1.4"/>
<ellipse cx="43.4" cy="73.0" rx="20.4" ry="13.6" transform="rotate(-10 43.4 73.0)" fill="url(#nuc)" stroke="#141450" stroke-width="1.4"/>
<ellipse cx="76.4" cy="74.0" rx="15.9" ry="12.4" transform="rotate(0 76.4 74.0)" fill="url(#nuc)" stroke="#141450" stroke-width="1.4"/>
<ellipse cx="14.4" cy="86.0" rx="15.9" ry="16.2" transform="rotate(0 14.4 86.0)" fill="url(#nuc)" stroke="#141450" stroke-width="1.4"/>
<ellipse cx="55.4" cy="93.0" rx="21.6" ry="11.9" transform="rotate(0 55.4 93.0)" fill="url(#nuc)" stroke="#141450" stroke-width="1.4"/>
<ellipse cx="1.4" cy="27.0" rx="4.3" ry="10.8" transform="rotate(0 1.4 27.0)" fill="url(#nuc)" stroke="#141450" stroke-width="1.4"/>
<ellipse cx="96.4" cy="69.0" rx="6.5" ry="10.8" transform="rotate(0 96.4 69.0)" fill="url(#nuc)" stroke="#141450" stroke-width="1.4"/>
</g>
<g filter="url(#blur2)">
<circle cx="14.7" cy="9.1" r="2.1" fill="#3a3ab8" opacity="0.4"/>
<circle cx="27.7" cy="15.4" r="2.2" fill="#3a3ab8" opacity="0.4"/>
<circle cx="15.0" cy="13.6" r="2.7" fill="#3a3ab8" opacity="0.4"/>
<circle cx="19.9" cy="11.6" r="1.8" fill="#3a3ab8" opacity="0.4"/>
<circle cx="37.4" cy="28.5" r="2.7" fill="#141460" opacity="0.4"/>
<circle cx="39.0" cy="24.8" r="2.3" fill="#3a3ab8" opacity="0.4"/>
<circle cx="43.2" cy="26.7" r="2.7" fill="#3a3ab8" opacity="0.4"/>
<circle cx="36.2" cy="25.7" r="1.9" fill="#141460" opacity="0.4"/>
<circle cx="73.5" cy="9.8" r="2.7" fill="#141460" opacity="0.4"/>
<circle cx="69.8" cy="11.6" r="2.0" fill="#141460" opacity="0.4"/>
<circle cx="70.6" cy="11.4" r="2.5" fill="#141460" opacity="0.4"/>
<circle cx="67.4" cy="7.9" r="2.1" fill="#3a3ab8" opacity="0.4"/>
<circle cx="91.0" cy="28.1" r="2.7" fill="#3a3ab8" opacity="0.4"/>
<circle cx="87.7" cy="21.0" r="2.4" fill="#3a3ab8" opacity="0.4"/>
<circle cx="84.2" cy="17.6" r="1.9" fill="#3a3ab8" opacity="0.4"/>
<circle cx="88.3" cy="27.5" r="1.8" fill="#141460" opacity="0.4"/>
<circle cx="14.9" cy="46.8" r="2.9" fill="#3a3ab8" opacity="0.4"/>
<circle cx="17.5" cy="53.3" r="3.0" fill="#3a3ab8" opacity="0.4"/>
<circle cx="18.1" cy="55.7" r="2.7" fill="#141460" opacity="0.4"/>
<circle cx="13.4" cy="53.3" r="2.3" fill="#141460" opacity="0.4"/>
<circle cx="28.3" cy="32.2" r="1.7" fill="#141460" opacity="0.4"/>
<circle cx="23.5" cy="32.4" r="2.2" fill="#3a3ab8" opacity="0.4"/>
<circle cx="26.2" cy="40.1" r="2.6" fill="#3a3ab8" opacity="0.4"/>
<circle cx="26.4" cy="36.4" r="2.8" fill="#3a3ab8" opacity="0.4"/>
<circle cx="50.8" cy="41.5" r="2.5" fill="#141460" opacity="0.4"/>
<circle cx="57.6" cy="48.8" r="2.1" fill="#141460" opacity="0.4"/>
<circle cx="62.2" cy="46.5" r="1.8" fill="#141460" opacity="0.4"/>
<circle cx="57.3" cy="37.4" r="2.4" fill="#141460" opacity="0.4"/>
<circle cx="84.3" cy="46.3" r="2.2" fill="#3a3ab8" opacity="0.4"/>
<circle cx="74.5" cy="53.5" r="2.4" fill="#141460" opacity="0.4"/>
<circle cx="75.3" cy="52.8" r="2.0" fill="#3a3ab8" opacity="0.4"/>
<circle cx="77.7" cy="49.2" r="1.9" fill="#3a3ab8" opacity="0.4"/>
<circle cx="49.6" cy="70.4" r="2.7" fill="#141460" opacity="0.4"/>
<circle cx="40.3" cy="79.1" r="2.8" fill="#141460" opacity="0.4"/>
<circle cx="52.4" cy="74.9" r="2.7" fill="#141460" opacity="0.4"/>
<circle cx="37.6" cy="75.7" r="1.7" fill="#3a3ab8" opacity="0.4"/>
<circle cx="80.6" cy="68.7" r="2.6" fill="#141460" opacity="0.4"/>
<circle cx="77.1" cy="68.8" r="2.0" fill="#3a3ab8" opacity="0.4"/>
<circle cx="69.7" cy="77.7" r="2.2" fill="#3a3ab8" opacity="0.4"/>
<circle cx="80.6" cy="78.7" r="2.4" fill="#3a3ab8" opacity="0.4"/>
<circle cx="16.3" cy="88.9" r="2.4" fill="#3a3ab8" opacity="0.4"/>
<circle cx="10.2" cy="88.5" r="2.2" fill="#3a3ab8" opacity="0.4"/>
<circle cx="8.5" cy="81.2" r="1.6" fill="#3a3ab8" opacity="0.4"/>
<circle cx="20.5" cy="88.3" r="2.1" fill="#3a3ab8" opacity="0.4"/>
<circle cx="61.1" cy="93.7" r="1.9" fill="#141460" opacity="0.4"/>
<circle cx="49.1" cy="87.9" r="1.5" fill="#3a3ab8" opacity="0.4"/>
<circle cx="55.4" cy="93.2" r="2.7" fill="#141460" opacity="0.4"/>
<circle cx="56.9" cy="97.6" r="2.2" fill="#3a3ab8" opacity="0.4"/>
<circle cx="2.1" cy="27.9" r="3.0" fill="#3a3ab8" opacity="0.4"/>
<circle cx="1.3" cy="26.1" r="1.7" fill="#141460" opacity="0.4"/>
<circle cx="0.2" cy="23.5" r="1.5" fill="#3a3ab8" opacity="0.4"/>
<circle cx="-0.6" cy="28.7" r="3.0" fill="#3a3ab8" opacity="0.4"/>
<circle cx="94.7" cy="65.2" r="2.2" fill="#141460" opacity="0.4"/>
<circle cx="97.7" cy="66.4" r="2.6" fill="#3a3ab8" opacity="0.4"/>
<circle cx="98.9" cy="67.7" r="2.6" fill="#3a3ab8" opacity="0.4"/>
<circle cx="97.8" cy="64.8" r="2.4" fill="#141460" opacity="0.4"/>
</g>
<circle cx="46.1" cy="90.1" r="0.45" fill="#80c0a0" opacity="0.6"/>
<circle cx="88.5" cy="7.9" r="0.45" fill="#c070c0" opacity="0.6"/>
<circle cx="4.1" cy="4.4" r="0.45" fill="#a080e0" opacity="0.6"/>
<circle cx="67.3" cy="60.7" r="0.45" fill="#80c0a0" opacity="0.6"/>
<circle cx="32.1" cy="71.1" r="0.45" fill="#c070c0" opacity="0.6"/>
<circle cx="92.6" cy="81.0" r="0.45" fill="#a080e0" opacity="0.6"/>
<circle cx="8.6" cy="37.3" r="0.45" fill="#a080e0" opacity="0.6"/>
<circle cx="71.1" cy="46.9" r="0.45" fill="#c070c0" opacity="0.6"/>
<circle cx="16.6" cy="77.5" r="0.45" fill="#80c0a0" opacity="0.6"/>
<circle cx="92.3" cy="18.3" r="0.45" fill="#80c0a0" opacity="0.6"/>
<circle cx="47.6" cy="75.7" r="0.45" fill="#80c0a0" opacity="0.6"/>
<circle cx="91.4" cy="76.3" r="0.45" fill="#a080e0" opacity="0.6"/>
<circle cx="34.3" cy="29.1" r="0.45" fill="#a080e0" opacity="0.6"/>
<circle cx="94.2" cy="68.7" r="0.45" fill="#a080e0" opacity="0.6"/>
<circle cx="34.1" cy="59.6" r="0.45" fill="#c070c0" opacity="0.6"/>
<circle cx="80.8" cy="59.1" r="0.45" fill="#80c0a0" opacity="0.6"/>
<circle cx="57.7" cy="94.2" r="0.45" fill="#c070c0" opacity="0.6"/>
<circle cx="38.3" cy="67.0" r="0.45" fill="#a080e0" opacity="0.6"/>
<circle cx="75.2" cy="24.9" r="0.45" fill="#80c0a0" opacity="0.6"/>
<circle cx="29.5" cy="3.2" r="0.45" fill="#80c0a0" opacity="0.6"/>
<circle cx="28.1" cy="17.7" r="0.45" fill="#c070c0" opacity="0.6"/>
<circle cx="30.0" cy="16.1" r="0.45" fill="#a080e0" opacity="0.6"/>
<circle cx="16.8" cy="94.1" r="0.45" fill="#a080e0" opacity="0.6"/>
<circle cx="67.1" cy="88.3" r="0.45" fill="#80c0a0" opacity="0.6"/>
<circle cx="53.0" cy="53.4" r="0.45" fill="#80c0a0" opacity="0.6"/>
<circle cx="77.6" cy="21.7" r="0.45" fill="#a080e0" opacity="0.6"/>
<circle cx="90.2" cy="24.9" r="0.45" fill="#a080e0" opacity="0.6"/>
<circle cx="8.4" cy="39.9" r="0.45" fill="#a080e0" opacity="0.6"/>
<circle cx="22.3" cy="26.8" r="0.45" fill="#c070c0" opacity="0.6"/>
<circle cx="77.1" cy="45.9" r="0.45" fill="#c070c0" opacity="0.6"/>
</svg>
<rect x="419.60" y="204.00" width="99.60" height="99.40" fill="none" stroke="#222" stroke-width="0.5"/>
<svg x="419.6" y="307.2" width="99.6" height="98.6" viewBox="0 0 99.6 98.6" overflow="hidden">
<rect x="0.00" y="0.00" width="99.60" height="98.60" fill="#0a0a26" />
<g filter="url(#blur1)">
<ellipse cx="12.4" cy="5.8" rx="15" ry="7" fill="#04040e"/>
<ellipse cx="85.4" cy="8.8" rx="14" ry="7" fill="#04040e"/>
<ellipse cx="60.4" cy="58.8" rx="9" ry="9" fill="#04040e"/>
<ellipse cx="91.4" cy="64.8" rx="8" ry="18" fill="#04040e"/>
<ellipse cx="4.4" cy="92.8" rx="6" ry="7" fill="#04040e"/>
<ellipse cx="41.4" cy="52.8" rx="4" ry="4" fill="#04040e"/>
</g>
<g filter="url(#blur1)">
<ellipse cx="41.4" cy="14.8" rx="15.9" ry="12.4" transform="rotate(-10 41.4 14.8)" fill="url(#nucb)" stroke="#141450" stroke-width="1.4"/>
<ellipse cx="11.4" cy="26.8" rx="11.9" ry="14.7" transform="rotate(0 11.4 26.8)" fill="url(#nuc)" stroke="#141450" stroke-width="1.4"/>
<ellipse cx="24.4" cy="40.8" rx="18.1" ry="15.9" transform="rotate(0 24.4 40.8)" fill="url(#nuc)" stroke="#141450" stroke-width="1.4"/>
<ellipse cx="81.4" cy="32.8" rx="18.1" ry="18.1" transform="rotate(-10 81.4 32.8)" fill="url(#nucb)" stroke="#141450" stroke-width="1.4"/>
<ellipse cx="54.4" cy="39.8" rx="11.9" ry="13.0" transform="rotate(0 54.4 39.8)" fill="url(#nucd)" stroke="#141450" stroke-width="1.4"/>
<ellipse cx="68.4" cy="4.8" rx="9.1" ry="5.0" transform="rotate(0 68.4 4.8)" fill="url(#nuc)" stroke="#141450" stroke-width="1.4"/>
<ellipse cx="27.4" cy="68.8" rx="25.9" ry="15.9" transform="rotate(-5 27.4 68.8)" fill="url(#nuc)" stroke="#141450" stroke-width="1.4"/>
<ellipse cx="55.4" cy="82.8" rx="19.2" ry="13.6" transform="rotate(0 55.4 82.8)" fill="url(#nuc)" stroke="#141450" stroke-width="1.4"/>
<ellipse cx="32.4" cy="94.8" rx="10.8" ry="5.4" transform="rotate(0 32.4 94.8)" fill="url(#nuc)" stroke="#141450" stroke-width="1.4"/>
<ellipse cx="96.4" cy="90.8" rx="6.5" ry="8.6" transform="rotate(0 96.4 90.8)" fill="url(#nuc)" stroke="#141450" stroke-width="1.4"/>
<ellipse cx="5.4" cy="56.8" rx="6.5" ry="8.6" transform="rotate(0 5.4 56.8)" fill="url(#nuc)" stroke="#141450" stroke-width="1.4"/>
</g>
<g filter="url(#blur2)">
<circle cx="41.9" cy="13.1" r="1.6" fill="#141460" opacity="0.4"/>
<circle cx="42.6" cy="19.4" r="2.8" fill="#141460" opacity="0.4"/>
<circle cx="41.1" cy="15.8" r="1.8" fill="#3a3ab8" opacity="0.4"/>
<circle cx="35.4" cy="18.3" r="1.9" fill="#141460" opacity="0.4"/>
<circle cx="10.3" cy="27.0" r="1.7" fill="#3a3ab8" opacity="0.4"/>
<circle cx="16.0" cy="26.7" r="2.8" fill="#141460" opacity="0.4"/>
<circle cx="12.9" cy="30.7" r="1.7" fill="#3a3ab8" opacity="0.4"/>
<circle cx="9.7" cy="27.1" r="1.5" fill="#3a3ab8" opacity="0.4"/>
<circle cx="19.4" cy="46.3" r="2.3" fill="#3a3ab8" opacity="0.4"/>
<circle cx="20.4" cy="44.9" r="2.1" fill="#141460" opacity="0.4"/>
<circle cx="28.9" cy="45.5" r="2.9" fill="#141460" opacity="0.4"/>
<circle cx="30.2" cy="38.4" r="3.0" fill="#141460" opacity="0.4"/>
<circle cx="74.4" cy="25.3" r="2.3" fill="#141460" opacity="0.4"/>
<circle cx="81.2" cy="38.6" r="2.8" fill="#141460" opacity="0.4"/>
<circle cx="88.5" cy="36.3" r="1.6" fill="#141460" opacity="0.4"/>
<circle cx="82.5" cy="35.2" r="2.9" fill="#141460" opacity="0.4"/>
<circle cx="50.9" cy="44.0" r="2.1" fill="#3a3ab8" opacity="0.4"/>
<circle cx="59.8" cy="36.5" r="1.6" fill="#141460" opacity="0.4"/>
<circle cx="59.3" cy="34.5" r="2.3" fill="#3a3ab8" opacity="0.4"/>
<circle cx="58.1" cy="34.4" r="2.7" fill="#141460" opacity="0.4"/>
<circle cx="64.7" cy="3.2" r="2.6" fill="#3a3ab8" opacity="0.4"/>
<circle cx="69.9" cy="3.9" r="2.4" fill="#3a3ab8" opacity="0.4"/>
<circle cx="68.2" cy="4.2" r="2.1" fill="#141460" opacity="0.4"/>
<circle cx="68.2" cy="3.3" r="1.9" fill="#3a3ab8" opacity="0.4"/>
<circle cx="37.3" cy="74.6" r="2.2" fill="#3a3ab8" opacity="0.4"/>
<circle cx="34.6" cy="63.8" r="2.7" fill="#3a3ab8" opacity="0.4"/>
<circle cx="37.8" cy="74.2" r="2.8" fill="#3a3ab8" opacity="0.4"/>
<circle cx="34.1" cy="75.5" r="2.9" fill="#141460" opacity="0.4"/>
<circle cx="61.5" cy="84.4" r="2.2" fill="#141460" opacity="0.4"/>
<circle cx="52.2" cy="79.4" r="1.7" fill="#141460" opacity="0.4"/>
<circle cx="49.0" cy="79.3" r="1.6" fill="#141460" opacity="0.4"/>
<circle cx="56.4" cy="78.3" r="2.8" fill="#141460" opacity="0.4"/>
<circle cx="31.6" cy="93.5" r="1.5" fill="#141460" opacity="0.4"/>
<circle cx="30.7" cy="93.1" r="2.2" fill="#141460" opacity="0.4"/>
<circle cx="32.0" cy="94.7" r="1.7" fill="#3a3ab8" opacity="0.4"/>
<circle cx="33.7" cy="96.2" r="2.9" fill="#141460" opacity="0.4"/>
<circle cx="98.4" cy="87.8" r="2.6" fill="#141460" opacity="0.4"/>
<circle cx="96.0" cy="88.9" r="1.9" fill="#3a3ab8" opacity="0.4"/>
<circle cx="94.0" cy="89.1" r="2.8" fill="#3a3ab8" opacity="0.4"/>
<circle cx="98.4" cy="94.6" r="1.7" fill="#3a3ab8" opacity="0.4"/>
<circle cx="5.1" cy="56.9" r="2.3" fill="#141460" opacity="0.4"/>
<circle cx="2.4" cy="59.5" r="2.3" fill="#3a3ab8" opacity="0.4"/>
<circle cx="4.6" cy="53.1" r="2.1" fill="#141460" opacity="0.4"/>
<circle cx="5.8" cy="53.9" r="1.8" fill="#3a3ab8" opacity="0.4"/>
</g>
<circle cx="69.6" cy="21.2" r="0.45" fill="#c070c0" opacity="0.6"/>
<circle cx="80.6" cy="85.4" r="0.45" fill="#a080e0" opacity="0.6"/>
<circle cx="49.4" cy="28.4" r="0.45" fill="#c070c0" opacity="0.6"/>
<circle cx="15.8" cy="65.0" r="0.45" fill="#a080e0" opacity="0.6"/>
<circle cx="79.0" cy="57.0" r="0.45" fill="#c070c0" opacity="0.6"/>
<circle cx="3.9" cy="67.1" r="0.45" fill="#a080e0" opacity="0.6"/>
<circle cx="41.2" cy="69.8" r="0.45" fill="#c070c0" opacity="0.6"/>
<circle cx="51.5" cy="35.2" r="0.45" fill="#80c0a0" opacity="0.6"/>
<circle cx="81.8" cy="83.1" r="0.45" fill="#80c0a0" opacity="0.6"/>
<circle cx="11.5" cy="40.9" r="0.45" fill="#80c0a0" opacity="0.6"/>
<circle cx="15.5" cy="64.6" r="0.45" fill="#c070c0" opacity="0.6"/>
<circle cx="20.4" cy="80.0" r="0.45" fill="#80c0a0" opacity="0.6"/>
<circle cx="6.4" cy="68.0" r="0.45" fill="#a080e0" opacity="0.6"/>
<circle cx="58.7" cy="3.4" r="0.45" fill="#a080e0" opacity="0.6"/>
<circle cx="90.2" cy="92.7" r="0.45" fill="#c070c0" opacity="0.6"/>
<circle cx="14.3" cy="69.2" r="0.45" fill="#80c0a0" opacity="0.6"/>
<circle cx="75.9" cy="83.4" r="0.45" fill="#a080e0" opacity="0.6"/>
<circle cx="73.3" cy="8.7" r="0.45" fill="#c070c0" opacity="0.6"/>
<circle cx="92.3" cy="48.8" r="0.45" fill="#a080e0" opacity="0.6"/>
<circle cx="5.4" cy="77.5" r="0.45" fill="#c070c0" opacity="0.6"/>
<circle cx="4.9" cy="92.6" r="0.45" fill="#c070c0" opacity="0.6"/>
<circle cx="60.9" cy="18.5" r="0.45" fill="#80c0a0" opacity="0.6"/>
<circle cx="26.4" cy="78.7" r="0.45" fill="#c070c0" opacity="0.6"/>
<circle cx="4.8" cy="88.8" r="0.45" fill="#a080e0" opacity="0.6"/>
<circle cx="21.3" cy="4.6" r="0.45" fill="#a080e0" opacity="0.6"/>
<circle cx="62.6" cy="46.0" r="0.45" fill="#c070c0" opacity="0.6"/>
<circle cx="68.8" cy="12.5" r="0.45" fill="#c070c0" opacity="0.6"/>
<circle cx="70.1" cy="7.2" r="0.45" fill="#c070c0" opacity="0.6"/>
<circle cx="46.5" cy="57.3" r="0.45" fill="#80c0a0" opacity="0.6"/>
<circle cx="13.3" cy="14.3" r="0.45" fill="#c070c0" opacity="0.6"/>
</svg>
<rect x="419.60" y="307.20" width="99.60" height="98.60" fill="none" stroke="#222" stroke-width="0.5"/>
<line x1="0.00" y1="313.50" x2="300.00" y2="313.50" stroke="#f0f0f0" stroke-width="0.6" />
<text x="0.38" y="326.90" font-size="12.4" fill="#111" font-weight="bold" font-style="normal" textLength="8.24" lengthAdjust="spacingAndGlyphs"  >E</text>
<text x="114.53" y="334.20" font-size="9.4" fill="#222" font-weight="normal" font-style="normal" textLength="104.44" lengthAdjust="spacingAndGlyphs" stroke="#222" stroke-width="0.28" >SU2C - Whole-exome data</text>
<line x1="34.60" y1="348.00" x2="34.60" y2="432.60" stroke="#555" stroke-width="0.8" />
<line x1="30.60" y1="348.00" x2="34.60" y2="348.00" stroke="#555" stroke-width="0.8" />
<text x="27.00" y="350.70" font-size="7.8" fill="#333" text-anchor="end" font-weight="normal" font-style="normal" stroke="#333" stroke-width="0.28" >2.0</text>
<line x1="30.60" y1="376.20" x2="34.60" y2="376.20" stroke="#555" stroke-width="0.8" />
<text x="27.00" y="378.90" font-size="7.8" fill="#333" text-anchor="end" font-weight="normal" font-style="normal" stroke="#333" stroke-width="0.28" >1.5</text>
<line x1="30.60" y1="404.40" x2="34.60" y2="404.40" stroke="#555" stroke-width="0.8" />
<text x="27.00" y="407.10" font-size="7.8" fill="#333" text-anchor="end" font-weight="normal" font-style="normal" stroke="#333" stroke-width="0.28" >1.0</text>
<line x1="30.60" y1="432.60" x2="34.60" y2="432.60" stroke="#555" stroke-width="0.8" />
<text x="27.00" y="435.30" font-size="7.8" fill="#333" text-anchor="end" font-weight="normal" font-style="normal" stroke="#333" stroke-width="0.28" >0.5</text>
<text x="0" y="0" font-size="6.5" fill="#333" stroke="#333" stroke-width="0.08" text-anchor="middle" transform="translate(12.3,390.8) rotate(-90)">Coverage ratio (tumor/matched normal)</text>
<line x1="44.30" y1="451.20" x2="300.00" y2="451.20" stroke="#777" stroke-width="0.8" />
<line x1="44.30" y1="451.20" x2="44.30" y2="453.20" stroke="#777" stroke-width="0.8" />
<line x1="172.00" y1="451.20" x2="172.00" y2="453.20" stroke="#777" stroke-width="0.8" />
<line x1="300.00" y1="451.20" x2="300.00" y2="453.20" stroke="#777" stroke-width="0.8" />
<text x="45.30" y="460.80" font-size="6.7" fill="#333" text-anchor="middle" font-weight="normal" font-style="normal" stroke="#333" stroke-width="0.28" >1–6</text>
<text x="171.60" y="460.80" font-size="6.7" fill="#333" text-anchor="middle" font-weight="normal" font-style="normal" stroke="#333" stroke-width="0.28" >7–17</text>
<text x="299.50" y="460.80" font-size="6.7" fill="#333" text-anchor="middle" font-weight="normal" font-style="normal" stroke="#333" stroke-width="0.28" >18–27</text>
<text x="147.9" y="473.1" font-size="9.1" fill="#222" stroke="#222" stroke-width="0.15" textLength="51.7" lengthAdjust="spacingAndGlyphs"><tspan font-style="italic">RB1</tspan>–EXONs</text>
<polyline points="44.3,407.3 172,405.7 300,403.6" fill="none" stroke="#a4a4a4" stroke-width="0.45" opacity="0.34" />
<polyline points="44.3,398.2 172,400.9 300,398.5" fill="none" stroke="#a4a4a4" stroke-width="0.45" opacity="0.34" />
<polyline points="44.3,409.1 172,408.3 300,394.9" fill="none" stroke="#b0b0b0" stroke-width="0.45" opacity="0.34" />
<polyline points="44.3,401.9 172,406.6 300,402.1" fill="none" stroke="#c8c8c8" stroke-width="0.45" opacity="0.34" />
<polyline points="44.3,401.4 172,409.5 300,401.2" fill="none" stroke="#a4a4a4" stroke-width="0.45" opacity="0.34" />
<polyline points="44.3,404.7 172,400.1 300,402.9" fill="none" stroke="#c8c8c8" stroke-width="0.45" opacity="0.34" stroke-dasharray="2 1.5"/>
<polyline points="44.3,409.7 172,402.2 300,407.4" fill="none" stroke="#b0b0b0" stroke-width="0.45" opacity="0.34" />
<polyline points="44.3,400.5 172,403.0 300,399.2" fill="none" stroke="#bcbcbc" stroke-width="0.45" opacity="0.34" stroke-dasharray="2 1.5"/>
<polyline points="44.3,397.2 172,406.3 300,399.6" fill="none" stroke="#b0b0b0" stroke-width="0.45" opacity="0.34" stroke-dasharray="2 1.5"/>
<polyline points="44.3,406.7 172,407.1 300,406.6" fill="none" stroke="#c8c8c8" stroke-width="0.45" opacity="0.34" />
<polyline points="44.3,404.0 172,406.0 300,402.9" fill="none" stroke="#b0b0b0" stroke-width="0.45" opacity="0.34" />
<polyline points="44.3,403.1 172,401.6 300,405.3" fill="none" stroke="#c8c8c8" stroke-width="0.45" opacity="0.34" />
<polyline points="44.3,403.7 172,403.7 300,396.4" fill="none" stroke="#c8c8c8" stroke-width="0.45" opacity="0.34" stroke-dasharray="2 1.5"/>
<polyline points="44.3,406.8 172,413.2 300,409.0" fill="none" stroke="#a4a4a4" stroke-width="0.45" opacity="0.34" stroke-dasharray="2 1.5"/>
<polyline points="44.3,402.0 172,402.4 300,406.9" fill="none" stroke="#bcbcbc" stroke-width="0.45" opacity="0.34" />
<polyline points="44.3,402.5 172,405.2 300,407.4" fill="none" stroke="#a4a4a4" stroke-width="0.45" opacity="0.34" />
<polyline points="44.3,409.9 172,407.6 300,402.7" fill="none" stroke="#a4a4a4" stroke-width="0.45" opacity="0.34" />
<polyline points="44.3,398.1 172,406.6 300,400.5" fill="none" stroke="#c8c8c8" stroke-width="0.45" opacity="0.34" stroke-dasharray="2 1.5"/>
<polyline points="44.3,405.8 172,402.6 300,413.7" fill="none" stroke="#a4a4a4" stroke-width="0.45" opacity="0.34" stroke-dasharray="2 1.5"/>
<polyline points="44.3,407.6 172,410.0 300,398.6" fill="none" stroke="#bcbcbc" stroke-width="0.45" opacity="0.34" />
<polyline points="44.3,405.9 172,402.0 300,402.6" fill="none" stroke="#b0b0b0" stroke-width="0.45" opacity="0.34" />
<polyline points="44.3,406.4 172,404.1 300,403.3" fill="none" stroke="#c8c8c8" stroke-width="0.45" opacity="0.34" />
<polyline points="44.3,400.5 172,403.4 300,410.0" fill="none" stroke="#b0b0b0" stroke-width="0.45" opacity="0.34" />
<polyline points="44.3,401.9 172,398.6 300,404.8" fill="none" stroke="#bcbcbc" stroke-width="0.45" opacity="0.34" />
<polyline points="44.3,405.5 172,407.0 300,402.9" fill="none" stroke="#c8c8c8" stroke-width="0.45" opacity="0.34" />
<polyline points="44.3,398.8 172,411.9 300,405.1" fill="none" stroke="#a4a4a4" stroke-width="0.45" opacity="0.34" stroke-dasharray="2 1.5"/>
<polyline points="44.3,408.5 172,409.3 300,405.5" fill="none" stroke="#b0b0b0" stroke-width="0.45" opacity="0.34" stroke-dasharray="2 1.5"/>
<polyline points="44.3,408.6 172,404.4 300,409.2" fill="none" stroke="#a4a4a4" stroke-width="0.45" opacity="0.34" />
<polyline points="44.3,402.0 172,405.1 300,402.7" fill="none" stroke="#b0b0b0" stroke-width="0.45" opacity="0.34" />
<polyline points="44.3,407.2 172,409.4 300,403.2" fill="none" stroke="#c8c8c8" stroke-width="0.45" opacity="0.34" stroke-dasharray="2 1.5"/>
<polyline points="44.3,408.6 172,401.5 300,406.8" fill="none" stroke="#a4a4a4" stroke-width="0.45" opacity="0.34" />
<polyline points="44.3,401.9 172,406.6 300,400.1" fill="none" stroke="#bcbcbc" stroke-width="0.45" opacity="0.34" />
<polyline points="44.3,406.6 172,402.8 300,403.0" fill="none" stroke="#bcbcbc" stroke-width="0.45" opacity="0.34" />
<polyline points="44.3,407.8 172,403.7 300,400.7" fill="none" stroke="#b0b0b0" stroke-width="0.45" opacity="0.34" stroke-dasharray="2 1.5"/>
<polyline points="44.3,404.8 172,396.0 300,405.8" fill="none" stroke="#c8c8c8" stroke-width="0.45" opacity="0.34" />
<polyline points="44.3,399.4 172,399.9 300,404.4" fill="none" stroke="#a4a4a4" stroke-width="0.45" opacity="0.34" />
<polyline points="44.3,408.0 172,400.5 300,409.7" fill="none" stroke="#b0b0b0" stroke-width="0.45" opacity="0.34" />
<polyline points="44.3,396.1 172,401.6 300,402.3" fill="none" stroke="#a4a4a4" stroke-width="0.45" opacity="0.34" />
<polyline points="44.3,402.2 172,406.0 300,402.9" fill="none" stroke="#a4a4a4" stroke-width="0.45" opacity="0.34" />
<polyline points="44.3,400.3 172,415.0 300,413.0" fill="none" stroke="#c8c8c8" stroke-width="0.45" opacity="0.34" />
<polyline points="44.3,404.4 172,406.8 300,406.7" fill="none" stroke="#b0b0b0" stroke-width="0.45" opacity="0.34" />
<polyline points="44.3,401.3 172,407.0 300,404.5" fill="none" stroke="#c8c8c8" stroke-width="0.45" opacity="0.34" />
<polyline points="44.3,398.9 172,416.6 300,401.5" fill="none" stroke="#bcbcbc" stroke-width="0.45" opacity="0.34" />
<polyline points="44.3,407.3 172,403.8 300,406.7" fill="none" stroke="#bcbcbc" stroke-width="0.45" opacity="0.34" />
<polyline points="44.3,399.3 172,402.9 300,400.7" fill="none" stroke="#b0b0b0" stroke-width="0.45" opacity="0.34" />
<polyline points="44.3,401.0 172,404.6 300,404.4" fill="none" stroke="#b0b0b0" stroke-width="0.45" opacity="0.34" />
<polyline points="44.3,405.9 172,403.8 300,403.5" fill="none" stroke="#bcbcbc" stroke-width="0.45" opacity="0.34" />
<polyline points="44.3,404.3 172,408.1 300,405.3" fill="none" stroke="#bcbcbc" stroke-width="0.45" opacity="0.34" />
<polyline points="44.3,406.2 172,403.8 300,401.0" fill="none" stroke="#b0b0b0" stroke-width="0.45" opacity="0.34" stroke-dasharray="2 1.5"/>
<polyline points="44.3,398.4 172,395.8 300,400.3" fill="none" stroke="#a4a4a4" stroke-width="0.45" opacity="0.34" />
<polyline points="44.3,410.2 172,410.0 300,403.9" fill="none" stroke="#c8c8c8" stroke-width="0.45" opacity="0.34" stroke-dasharray="2 1.5"/>
<polyline points="44.3,404.1 172,404.7 300,401.5" fill="none" stroke="#b0b0b0" stroke-width="0.45" opacity="0.34" stroke-dasharray="2 1.5"/>
<polyline points="44.3,397.0 172,399.6 300,407.4" fill="none" stroke="#a4a4a4" stroke-width="0.45" opacity="0.34" />
<polyline points="44.3,406.3 172,402.0 300,404.1" fill="none" stroke="#a4a4a4" stroke-width="0.45" opacity="0.34" />
<polyline points="44.3,400.0 172,406.1 300,406.4" fill="none" stroke="#b0b0b0" stroke-width="0.45" opacity="0.34" stroke-dasharray="2 1.5"/>
<polyline points="44.3,406.6 172,407.2 300,405.6" fill="none" stroke="#b0b0b0" stroke-width="0.45" opacity="0.34" />
<polyline points="44.3,403.0 172,408.3 300,411.8" fill="none" stroke="#a4a4a4" stroke-width="0.45" opacity="0.34" />
<polyline points="44.3,410.8 172,399.2 300,402.1" fill="none" stroke="#bcbcbc" stroke-width="0.45" opacity="0.34" />
<polyline points="44.3,409.8 172,401.0 300,397.1" fill="none" stroke="#b0b0b0" stroke-width="0.45" opacity="0.34" stroke-dasharray="2 1.5"/>
<polyline points="44.3,403.2 172,406.7 300,402.6" fill="none" stroke="#c8c8c8" stroke-width="0.45" opacity="0.34" />
<polyline points="44.3,406.9 172,402.1 300,402.1" fill="none" stroke="#b0b0b0" stroke-width="0.45" opacity="0.34" />
<polyline points="44.3,407.2 172,413.2 300,400.6" fill="none" stroke="#bcbcbc" stroke-width="0.45" opacity="0.34" />
<polyline points="44.3,408.2 172,404.2 300,407.1" fill="none" stroke="#b0b0b0" stroke-width="0.45" opacity="0.34" />
<polyline points="44.3,403.1 172,401.3 300,399.6" fill="none" stroke="#b0b0b0" stroke-width="0.45" opacity="0.34" stroke-dasharray="2 1.5"/>
<polyline points="44.3,411.6 172,407.0 300,408.3" fill="none" stroke="#bcbcbc" stroke-width="0.45" opacity="0.34" stroke-dasharray="2 1.5"/>
<polyline points="44.3,406.0 172,409.0 300,399.7" fill="none" stroke="#a4a4a4" stroke-width="0.45" opacity="0.34" />
<polyline points="44.3,407.5 172,406.7 300,406.9" fill="none" stroke="#a4a4a4" stroke-width="0.45" opacity="0.34" />
<polyline points="44.3,404.0 172,391.1 300,409.0" fill="none" stroke="#a4a4a4" stroke-width="0.45" opacity="0.34" />
<polyline points="44.3,406.5 172,402.6 300,406.4" fill="none" stroke="#b0b0b0" stroke-width="0.45" opacity="0.34" />
<polyline points="44.3,406.2 172,398.0 300,400.5" fill="none" stroke="#a4a4a4" stroke-width="0.45" opacity="0.34" stroke-dasharray="2 1.5"/>
<polyline points="44.3,404.9 172,407.3 300,398.7" fill="none" stroke="#bcbcbc" stroke-width="0.45" opacity="0.34" />
<polyline points="44.3,403.8 172,404.6 300,402.0" fill="none" stroke="#b0b0b0" stroke-width="0.45" opacity="0.34" stroke-dasharray="2 1.5"/>
<polyline points="44.3,397.8 172,408.9 300,404.3" fill="none" stroke="#c8c8c8" stroke-width="0.45" opacity="0.34" stroke-dasharray="2 1.5"/>
<polyline points="44.3,407.2 172,406.8 300,397.8" fill="none" stroke="#a4a4a4" stroke-width="0.45" opacity="0.34" stroke-dasharray="2 1.5"/>
<polyline points="44.3,412.0 172,399.7 300,403.2" fill="none" stroke="#bcbcbc" stroke-width="0.45" opacity="0.34" />
<polyline points="44.3,413.1 172,403.2 300,401.3" fill="none" stroke="#c8c8c8" stroke-width="0.45" opacity="0.34" />
<polyline points="44.3,397.9 172,403.9 300,420.1" fill="none" stroke="#a4a4a4" stroke-width="0.45" opacity="0.34" />
<polyline points="44.3,400.1 172,406.8 300,406.1" fill="none" stroke="#b0b0b0" stroke-width="0.45" opacity="0.34" stroke-dasharray="2 1.5"/>
<polyline points="44.3,406.7 172,406.8 300,406.0" fill="none" stroke="#bcbcbc" stroke-width="0.45" opacity="0.34" />
<polyline points="44.3,408.3 172,404.9 300,406.5" fill="none" stroke="#b0b0b0" stroke-width="0.45" opacity="0.34" />
<polyline points="44.3,411.3 172,412.3 300,406.8" fill="none" stroke="#a4a4a4" stroke-width="0.45" opacity="0.34" />
<polyline points="44.3,405.6 172,405.1 300,400.5" fill="none" stroke="#c8c8c8" stroke-width="0.45" opacity="0.34" />
<polyline points="44.3,398.9 172,400.3 300,408.8" fill="none" stroke="#b0b0b0" stroke-width="0.45" opacity="0.34" />
<polyline points="44.3,411.9 172,405.5 300,405.3" fill="none" stroke="#c8c8c8" stroke-width="0.45" opacity="0.34" stroke-dasharray="2 1.5"/>
<polyline points="44.3,398.4 172,408.6 300,399.6" fill="none" stroke="#a4a4a4" stroke-width="0.45" opacity="0.34" />
<polyline points="44.3,401.0 172,407.2 300,406.1" fill="none" stroke="#b0b0b0" stroke-width="0.45" opacity="0.34" />
<polyline points="44.3,400.1 172,406.4 300,406.7" fill="none" stroke="#a4a4a4" stroke-width="0.45" opacity="0.34" />
<polyline points="44.3,400.2 172,406.2 300,406.6" fill="none" stroke="#bcbcbc" stroke-width="0.45" opacity="0.34" />
<polyline points="44.3,400.5 172,395.3 300,402.3" fill="none" stroke="#bcbcbc" stroke-width="0.45" opacity="0.34" />
<polyline points="44.3,409.2 172,399.0 300,405.4" fill="none" stroke="#c8c8c8" stroke-width="0.45" opacity="0.34" stroke-dasharray="2 1.5"/>
<polyline points="44.3,400.7 172,403.5 300,406.5" fill="none" stroke="#c8c8c8" stroke-width="0.45" opacity="0.34" stroke-dasharray="2 1.5"/>
<polyline points="44.3,402.9 172,406.9 300,408.3" fill="none" stroke="#a4a4a4" stroke-width="0.45" opacity="0.34" stroke-dasharray="2 1.5"/>
<polyline points="44.3,404.1 172,399.9 300,412.5" fill="none" stroke="#c8c8c8" stroke-width="0.45" opacity="0.34" />
<polyline points="44.3,401.0 172,400.5 300,400.1" fill="none" stroke="#bcbcbc" stroke-width="0.45" opacity="0.34" />
<polyline points="44.3,402.3 172,409.9 300,404.3" fill="none" stroke="#bcbcbc" stroke-width="0.45" opacity="0.34" />
<polyline points="44.3,407.0 172,412.0 300,402.9" fill="none" stroke="#bcbcbc" stroke-width="0.45" opacity="0.34" stroke-dasharray="2 1.5"/>
<polyline points="44.3,405.4 172,401.1 300,404.1" fill="none" stroke="#c8c8c8" stroke-width="0.45" opacity="0.34" />
<polyline points="44.3,403.0 172,402.2 300,402.4" fill="none" stroke="#b0b0b0" stroke-width="0.45" opacity="0.34" stroke-dasharray="2 1.5"/>
<polyline points="44.3,409.6 172,403.1 300,405.6" fill="none" stroke="#b0b0b0" stroke-width="0.45" opacity="0.34" stroke-dasharray="2 1.5"/>
<polyline points="44.3,399.2 172,397.9 300,404.7" fill="none" stroke="#b0b0b0" stroke-width="0.45" opacity="0.34" />
<polyline points="44.3,407.8 172,398.9 300,404.9" fill="none" stroke="#a4a4a4" stroke-width="0.45" opacity="0.34" />
<polyline points="44.3,398.3 172,404.2 300,407.6" fill="none" stroke="#c8c8c8" stroke-width="0.45" opacity="0.34" />
<polyline points="44.3,408.1 172,409.7 300,399.5" fill="none" stroke="#c8c8c8" stroke-width="0.45" opacity="0.34" />
<polyline points="44.3,406.8 172,398.8 300,401.5" fill="none" stroke="#b0b0b0" stroke-width="0.45" opacity="0.34" />
<polyline points="44.3,402.5 172,408.0 300,402.3" fill="none" stroke="#bcbcbc" stroke-width="0.45" opacity="0.34" stroke-dasharray="2 1.5"/>
<polyline points="44.3,398.9 172,405.7 300,407.5" fill="none" stroke="#c8c8c8" stroke-width="0.45" opacity="0.34" />
<polyline points="44.3,406.8 172,408.1 300,404.2" fill="none" stroke="#c8c8c8" stroke-width="0.45" opacity="0.34" />
<polyline points="44.3,402.1 172,405.0 300,403.1" fill="none" stroke="#b0b0b0" stroke-width="0.45" opacity="0.34" />
<polyline points="44.3,409.8 172,410.6 300,406.6" fill="none" stroke="#bcbcbc" stroke-width="0.45" opacity="0.34" />
<polyline points="44.3,413.2 172,407.4 300,404.4" fill="none" stroke="#c8c8c8" stroke-width="0.45" opacity="0.34" />
<polyline points="44.3,406.0 172,406.6 300,404.1" fill="none" stroke="#a4a4a4" stroke-width="0.45" opacity="0.34" stroke-dasharray="2 1.5"/>
<polyline points="44.3,402.1 172,400.6 300,403.4" fill="none" stroke="#bcbcbc" stroke-width="0.45" opacity="0.34" stroke-dasharray="2 1.5"/>
<polyline points="44.3,405.2 172,404.2 300,409.7" fill="none" stroke="#a4a4a4" stroke-width="0.45" opacity="0.34" stroke-dasharray="2 1.5"/>
<polyline points="44.3,409.5 172,403.7 300,403.9" fill="none" stroke="#a4a4a4" stroke-width="0.45" opacity="0.34" />
<polyline points="44.3,403.9 172,404.7 300,402.2" fill="none" stroke="#bcbcbc" stroke-width="0.45" opacity="0.34" />
<polyline points="44.3,405.1 172,397.3 300,404.2" fill="none" stroke="#c8c8c8" stroke-width="0.45" opacity="0.34" />
<polyline points="44.3,409.6 172,403.9 300,408.3" fill="none" stroke="#bcbcbc" stroke-width="0.45" opacity="0.34" />
<polyline points="44.3,404.9 172,399.2 300,405.6" fill="none" stroke="#b0b0b0" stroke-width="0.45" opacity="0.34" />
<polyline points="44.3,407.4 172,399.6 300,407.9" fill="none" stroke="#c8c8c8" stroke-width="0.45" opacity="0.34" />
<polyline points="44.3,406.2 172,407.1 300,406.9" fill="none" stroke="#c8c8c8" stroke-width="0.45" opacity="0.34" />
<polyline points="44.3,409.9 172,411.1 300,403.4" fill="none" stroke="#b0b0b0" stroke-width="0.45" opacity="0.34" stroke-dasharray="2 1.5"/>
<polyline points="44.3,397.6 172,409.7 300,406.6" fill="none" stroke="#a4a4a4" stroke-width="0.45" opacity="0.34" />
<polyline points="44.3,404.1 172,400.4 300,404.6" fill="none" stroke="#bcbcbc" stroke-width="0.45" opacity="0.34" />
<polyline points="44.3,401.4 172,398.6 300,399.7" fill="none" stroke="#c8c8c8" stroke-width="0.45" opacity="0.34" />
<polyline points="44.3,402.0 172,399.1 300,405.1" fill="none" stroke="#a4a4a4" stroke-width="0.45" opacity="0.34" stroke-dasharray="2 1.5"/>
<polyline points="44.3,407.3 172,406.8 300,405.2" fill="none" stroke="#b0b0b0" stroke-width="0.45" opacity="0.34" />
<polyline points="44.3,407.7 172,411.8 300,401.5" fill="none" stroke="#b0b0b0" stroke-width="0.45" opacity="0.34" />
<polyline points="44.3,400.7 172,400.0 300,405.5" fill="none" stroke="#a4a4a4" stroke-width="0.45" opacity="0.34" />
<polyline points="44.3,406.4 172,403.3 300,399.8" fill="none" stroke="#b0b0b0" stroke-width="0.45" opacity="0.34" stroke-dasharray="2 1.5"/>
<polyline points="44.3,405.8 172,404.7 300,405.6" fill="none" stroke="#bcbcbc" stroke-width="0.45" opacity="0.34" stroke-dasharray="2 1.5"/>
<polyline points="44.3,398.0 172,403.3 300,400.5" fill="none" stroke="#b0b0b0" stroke-width="0.45" opacity="0.34" />
<polyline points="44.3,405.7 172,412.9 300,401.0" fill="none" stroke="#bcbcbc" stroke-width="0.45" opacity="0.34" />
<polyline points="44.3,397.0 172,409.2 300,401.4" fill="none" stroke="#c8c8c8" stroke-width="0.45" opacity="0.34" />
<polyline points="44.3,398.3 172,405.0 300,405.0" fill="none" stroke="#c8c8c8" stroke-width="0.45" opacity="0.34" stroke-dasharray="2 1.5"/>
<polyline points="44.3,409.2 172,400.0 300,398.8" fill="none" stroke="#b0b0b0" stroke-width="0.45" opacity="0.34" />
<polyline points="44.3,406.6 172,407.4 300,401.7" fill="none" stroke="#c8c8c8" stroke-width="0.45" opacity="0.34" />
<polyline points="44.3,397.1 172,398.7 300,405.7" fill="none" stroke="#bcbcbc" stroke-width="0.45" opacity="0.34" />
<polyline points="44.3,407.3 172,392.4 300,402.9" fill="none" stroke="#a4a4a4" stroke-width="0.45" opacity="0.34" stroke-dasharray="2 1.5"/>
<polyline points="44.3,402.4 172,404.7 300,403.7" fill="none" stroke="#c8c8c8" stroke-width="0.45" opacity="0.34" />
<polyline points="44.3,407.0 172,408.9 300,410.5" fill="none" stroke="#c8c8c8" stroke-width="0.45" opacity="0.34" />
<polyline points="44.3,407.3 172,412.1 300,403.8" fill="none" stroke="#c8c8c8" stroke-width="0.45" opacity="0.34" />
<polyline points="44.3,404.6 172,409.8 300,404.1" fill="none" stroke="#b0b0b0" stroke-width="0.45" opacity="0.34" />
<polyline points="44.3,401.8 172,404.4 300,402.1" fill="none" stroke="#a4a4a4" stroke-width="0.45" opacity="0.34" />
<polyline points="44.3,410.2 172,398.6 300,405.5" fill="none" stroke="#a4a4a4" stroke-width="0.45" opacity="0.34" />
<polyline points="44.3,400.3 172,409.1 300,401.5" fill="none" stroke="#bcbcbc" stroke-width="0.45" opacity="0.34" />
<polyline points="44.3,402.7 172,400.9 300,400.6" fill="none" stroke="#bcbcbc" stroke-width="0.45" opacity="0.34" stroke-dasharray="2 1.5"/>
<polyline points="44.3,407.5 172,401.3 300,407.6" fill="none" stroke="#c8c8c8" stroke-width="0.45" opacity="0.34" />
<polyline points="44.3,406.4 172,407.5 300,400.8" fill="none" stroke="#bcbcbc" stroke-width="0.45" opacity="0.34" stroke-dasharray="2 1.5"/>
<polyline points="44.3,416.4 172,401.8 300,402.4" fill="none" stroke="#bcbcbc" stroke-width="0.45" opacity="0.34" stroke-dasharray="2 1.5"/>
<polyline points="44.3,403.7 172,405.7 300,400.1" fill="none" stroke="#c8c8c8" stroke-width="0.45" opacity="0.34" />
<polyline points="44.3,420.2 172,420.2 300,419.1" fill="none" stroke="#d6d6d6" stroke-width="0.5" opacity="0.7" stroke-dasharray="3 2"/>
<polyline points="44.3,429.2 172,429.2 300,429.2" fill="none" stroke="#d6d6d6" stroke-width="0.5" opacity="0.7" stroke-dasharray="3 2"/>
<polyline points="44.3,404.4 172,440.5 300,439.9" fill="none" stroke="#d6d6d6" stroke-width="0.5" opacity="0.7" stroke-dasharray="3 2"/>
<polyline points="44.3,383.0 172,393.1 300,410.0" fill="none" stroke="#d6d6d6" stroke-width="0.5" opacity="0.7" />
<polyline points="44.3,373.4 172,401.6 300,404.4" fill="none" stroke="#d6d6d6" stroke-width="0.5" opacity="0.7" />
<polyline points="44.3,404.4 172,404.4 300,367.7" fill="none" stroke="#d6d6d6" stroke-width="0.5" opacity="0.7" />
<polyline points="44.3,387.5 172,390.3 300,393.1" fill="none" stroke="#d6d6d6" stroke-width="0.5" opacity="0.7" />
<polyline points="44.3,390.3 172,410.0 300,418.5" fill="none" stroke="#d6d6d6" stroke-width="0.5" opacity="0.7" />
<polyline points="44.3,412.9 172,429.8 300,412.9" fill="none" stroke="#d6d6d6" stroke-width="0.5" opacity="0.7" />
<polyline points="44.3,398.8 172,407.2 300,427.0" fill="none" stroke="#d6d6d6" stroke-width="0.5" opacity="0.7" />
<polyline points="44.3,379.0 172,398.8 300,398.8" fill="none" stroke="#d6d6d6" stroke-width="0.5" opacity="0.7" />
<polyline points="44.3,407.2 172,387.5 300,395.9" fill="none" stroke="#d6d6d6" stroke-width="0.5" opacity="0.7" />
<polyline points="44.3,404.4 172,365.8 300,417.4" fill="none" stroke="#e49484" stroke-width="0.65"/>
<line x1="43.80" y1="354.40" x2="54.20" y2="354.40" stroke="#d06a50" stroke-width="1" />
<text x="57.83" y="356.90" font-size="7.5" fill="#222" font-weight="normal" font-style="normal" textLength="46.85" lengthAdjust="spacingAndGlyphs" stroke="#222" stroke-width="0.28" >Patient V4074</text>
</svg>
</body></html>
